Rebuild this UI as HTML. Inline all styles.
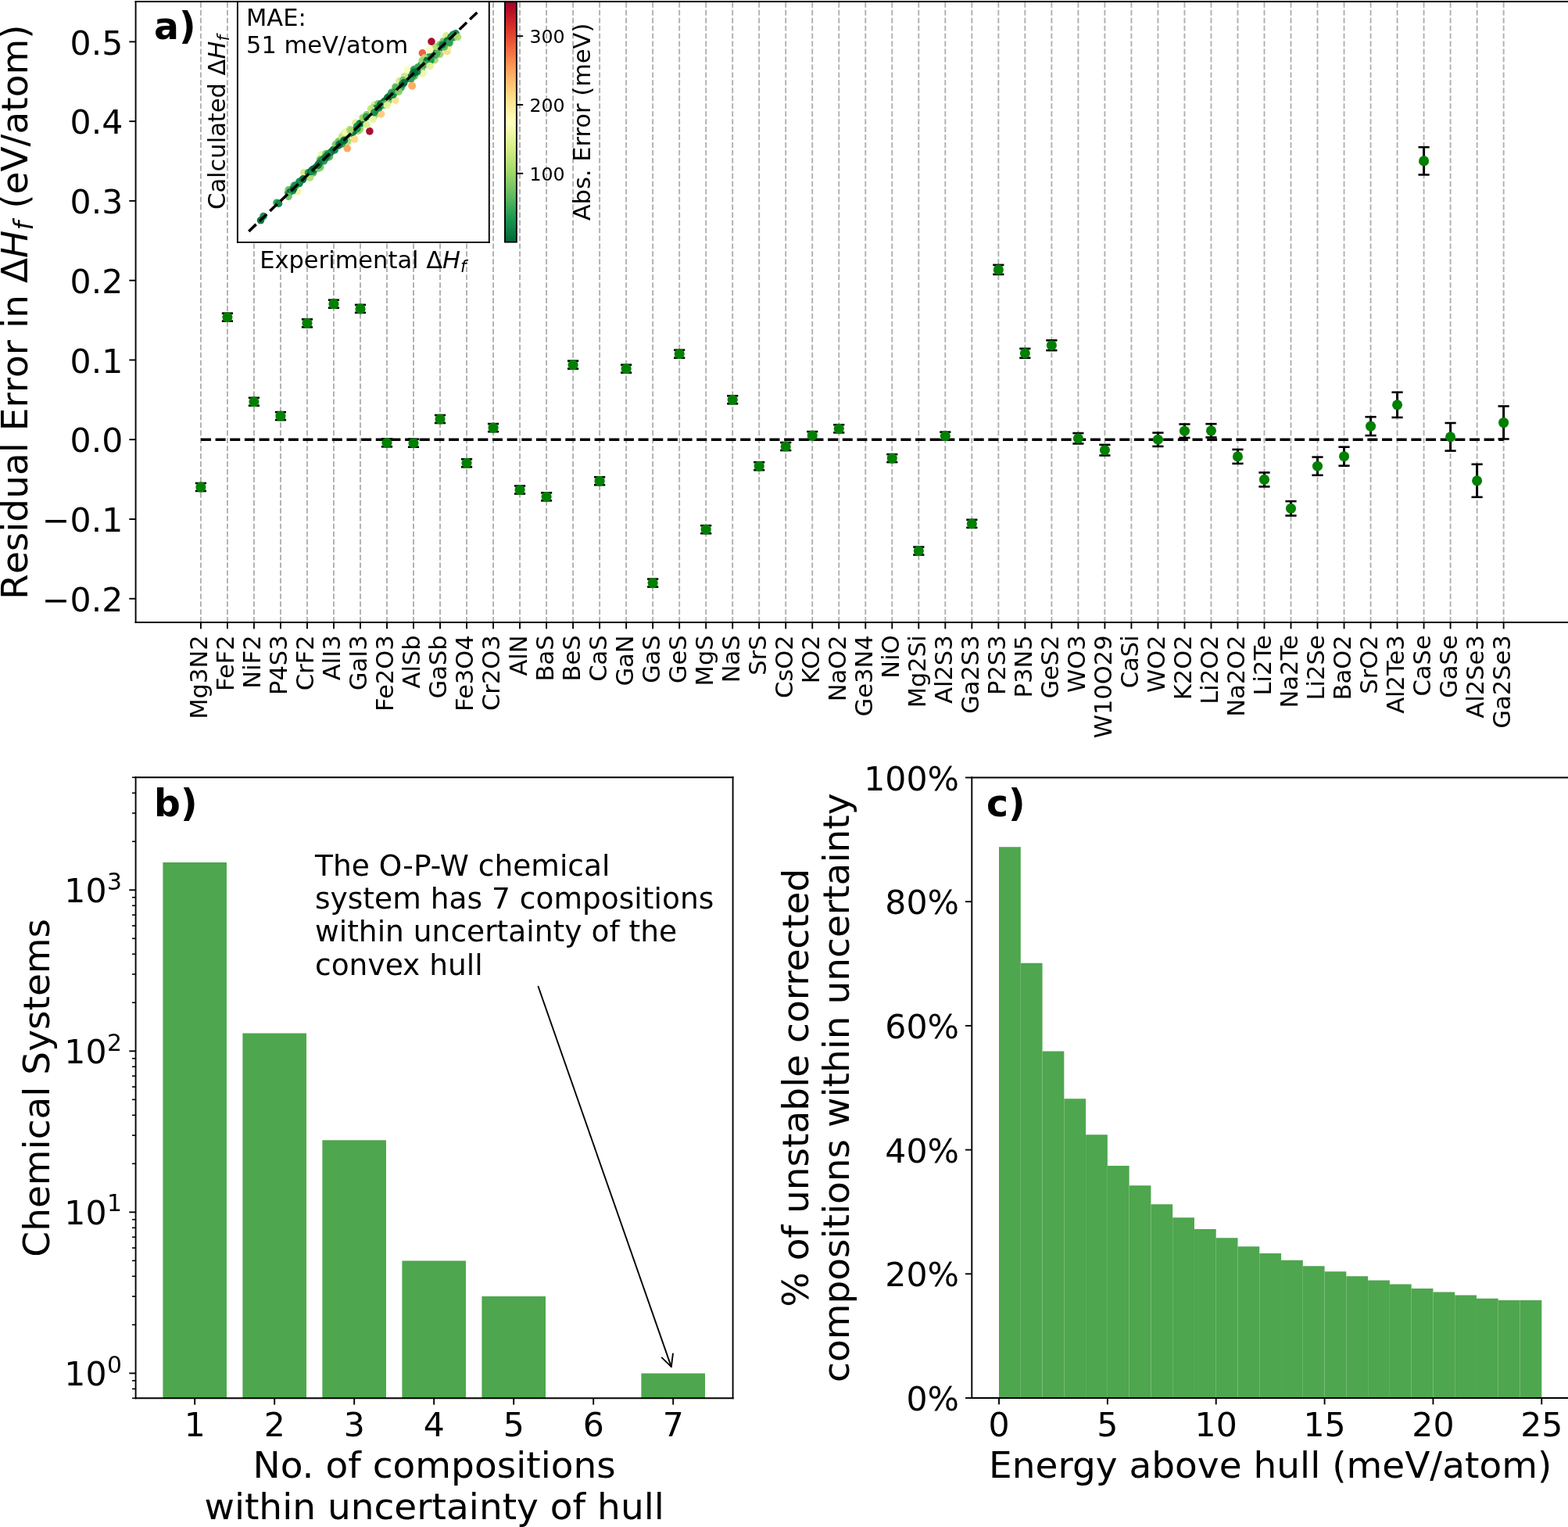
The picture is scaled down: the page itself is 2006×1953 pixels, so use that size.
<!DOCTYPE html>
<html><head><meta charset="utf-8"><title>Figure</title>
<style>html,body{margin:0;padding:0;background:#fff;}body{width:2006px;height:1953px;overflow:hidden;}svg{display:block;}</style>
</head><body>
<svg width="2006" height="1953" viewBox="0 0 2006 1953" version="1.1">
<defs>
<style type="text/css">*{stroke-linejoin: round; stroke-linecap: butt}</style>
</defs>
<g id="figure_1">
<g id="patch_1">
<path d="M 0 1953
L 2006 1953
L 2006 0
L 0 0
z
" style="fill: #ffffff"/>
</g>
<g id="axes_1">
<g id="patch_2">
<path d="M 173.6 796
L 2007 796
L 2007 2
L 173.6 2
z
" style="fill: #ffffff"/>
</g>
<g id="matplotlib.axis_1">
<g id="xtick_1">
<g id="line2d_1">
<path d="M 256.9 796
L 256.9 2
" clip-path="url(#p88816e5993)" style="fill: none; stroke-dasharray: 6.8904,3.0624; stroke-dashoffset: 0; stroke: #b0b0b0; stroke-width: 1.914"/>
</g>
<g id="line2d_2">

<g>
<path d="M 0 0 L 0 8.3" transform="translate(256.9 796)" style="stroke: #000000; stroke-width: 1.9"/>
</g>
</g>
<g id="text_1">
<text style="font-size: 30.55px; font-family: 'DejaVu Sans', sans-serif" transform="translate(265.329891 919.783492) rotate(-90)">Mg3N2</text>
</g>
</g>
<g id="xtick_2">
<g id="line2d_3">
<path d="M 290.915 796
L 290.915 2
" clip-path="url(#p88816e5993)" style="fill: none; stroke-dasharray: 6.8904,3.0624; stroke-dashoffset: 0; stroke: #b0b0b0; stroke-width: 1.914"/>
</g>
<g id="line2d_4">
<g>
<path d="M 0 0 L 0 8.3" transform="translate(290.915 796)" style="stroke: #000000; stroke-width: 1.9"/>
</g>
</g>
<g id="text_2">
<text style="font-size: 30.55px; font-family: 'DejaVu Sans', sans-serif" transform="translate(299.344891 883.997031) rotate(-90)">FeF2</text>
</g>
</g>
<g id="xtick_3">
<g id="line2d_5">
<path d="M 324.93 796
L 324.93 2
" clip-path="url(#p88816e5993)" style="fill: none; stroke-dasharray: 6.8904,3.0624; stroke-dashoffset: 0; stroke: #b0b0b0; stroke-width: 1.914"/>
</g>
<g id="line2d_6">
<g>
<path d="M 0 0 L 0 8.3" transform="translate(324.93 796)" style="stroke: #000000; stroke-width: 1.9"/>
</g>
</g>
<g id="text_3">
<text style="font-size: 30.55px; font-family: 'DejaVu Sans', sans-serif" transform="translate(333.359891 880.650852) rotate(-90)">NiF2</text>
</g>
</g>
<g id="xtick_4">
<g id="line2d_7">
<path d="M 358.945 796
L 358.945 2
" clip-path="url(#p88816e5993)" style="fill: none; stroke-dasharray: 6.8904,3.0624; stroke-dashoffset: 0; stroke: #b0b0b0; stroke-width: 1.914"/>
</g>
<g id="line2d_8">
<g>
<path d="M 0 0 L 0 8.3" transform="translate(358.945 796)" style="stroke: #000000; stroke-width: 1.9"/>
</g>
</g>
<g id="text_4">
<text style="font-size: 30.55px; font-family: 'DejaVu Sans', sans-serif" transform="translate(367.374891 888.990047) rotate(-90)">P4S3</text>
</g>
</g>
<g id="xtick_5">
<g id="line2d_9">
<path d="M 392.96 796
L 392.96 2
" clip-path="url(#p88816e5993)" style="fill: none; stroke-dasharray: 6.8904,3.0624; stroke-dashoffset: 0; stroke: #b0b0b0; stroke-width: 1.914"/>
</g>
<g id="line2d_10">
<g>
<path d="M 0 0 L 0 8.3" transform="translate(392.96 796)" style="stroke: #000000; stroke-width: 1.9"/>
</g>
</g>
<g id="text_5">
<text style="font-size: 30.55px; font-family: 'DejaVu Sans', sans-serif" transform="translate(401.389891 883.199867) rotate(-90)">CrF2</text>
</g>
</g>
<g id="xtick_6">
<g id="line2d_11">
<path d="M 426.975 796
L 426.975 2
" clip-path="url(#p88816e5993)" style="fill: none; stroke-dasharray: 6.8904,3.0624; stroke-dashoffset: 0; stroke: #b0b0b0; stroke-width: 1.914"/>
</g>
<g id="line2d_12">
<g>
<path d="M 0 0 L 0 8.3" transform="translate(426.975 796)" style="stroke: #000000; stroke-width: 1.9"/>
</g>
</g>
<g id="text_6">
<text style="font-size: 30.55px; font-family: 'DejaVu Sans', sans-serif" transform="translate(435.404891 870.134969) rotate(-90)">AlI3</text>
</g>
</g>
<g id="xtick_7">
<g id="line2d_13">
<path d="M 460.99 796
L 460.99 2
" clip-path="url(#p88816e5993)" style="fill: none; stroke-dasharray: 6.8904,3.0624; stroke-dashoffset: 0; stroke: #b0b0b0; stroke-width: 1.914"/>
</g>
<g id="line2d_14">
<g>
<path d="M 0 0 L 0 8.3" transform="translate(460.99 796)" style="stroke: #000000; stroke-width: 1.9"/>
</g>
</g>
<g id="text_7">
<text style="font-size: 30.55px; font-family: 'DejaVu Sans', sans-serif" transform="translate(469.419891 883.142586) rotate(-90)">GaI3</text>
</g>
</g>
<g id="xtick_8">
<g id="line2d_15">
<path d="M 495.005 796
L 495.005 2
" clip-path="url(#p88816e5993)" style="fill: none; stroke-dasharray: 6.8904,3.0624; stroke-dashoffset: 0; stroke: #b0b0b0; stroke-width: 1.914"/>
</g>
<g id="line2d_16">
<g>
<path d="M 0 0 L 0 8.3" transform="translate(495.005 796)" style="stroke: #000000; stroke-width: 1.9"/>
</g>
</g>
<g id="text_8">
<text style="font-size: 30.55px; font-family: 'DejaVu Sans', sans-serif" transform="translate(503.434891 909.912023) rotate(-90)">Fe2O3</text>
</g>
</g>
<g id="xtick_9">
<g id="line2d_17">
<path d="M 529.02 796
L 529.02 2
" clip-path="url(#p88816e5993)" style="fill: none; stroke-dasharray: 6.8904,3.0624; stroke-dashoffset: 0; stroke: #b0b0b0; stroke-width: 1.914"/>
</g>
<g id="line2d_18">
<g>
<path d="M 0 0 L 0 8.3" transform="translate(529.02 796)" style="stroke: #000000; stroke-width: 1.9"/>
</g>
</g>
<g id="text_9">
<text style="font-size: 30.55px; font-family: 'DejaVu Sans', sans-serif" transform="translate(537.449891 880.474234) rotate(-90)">AlSb</text>
</g>
</g>
<g id="xtick_10">
<g id="line2d_19">
<path d="M 563.035 796
L 563.035 2
" clip-path="url(#p88816e5993)" style="fill: none; stroke-dasharray: 6.8904,3.0624; stroke-dashoffset: 0; stroke: #b0b0b0; stroke-width: 1.914"/>
</g>
<g id="line2d_20">
<g>
<path d="M 0 0 L 0 8.3" transform="translate(563.035 796)" style="stroke: #000000; stroke-width: 1.9"/>
</g>
</g>
<g id="text_10">
<text style="font-size: 30.55px; font-family: 'DejaVu Sans', sans-serif" transform="translate(571.464891 893.481852) rotate(-90)">GaSb</text>
</g>
</g>
<g id="xtick_11">
<g id="line2d_21">
<path d="M 597.05 796
L 597.05 2
" clip-path="url(#p88816e5993)" style="fill: none; stroke-dasharray: 6.8904,3.0624; stroke-dashoffset: 0; stroke: #b0b0b0; stroke-width: 1.914"/>
</g>
<g id="line2d_22">
<g>
<path d="M 0 0 L 0 8.3" transform="translate(597.05 796)" style="stroke: #000000; stroke-width: 1.9"/>
</g>
</g>
<g id="text_11">
<text style="font-size: 30.55px; font-family: 'DejaVu Sans', sans-serif" transform="translate(605.479891 909.912023) rotate(-90)">Fe3O4</text>
</g>
</g>
<g id="xtick_12">
<g id="line2d_23">
<path d="M 631.065 796
L 631.065 2
" clip-path="url(#p88816e5993)" style="fill: none; stroke-dasharray: 6.8904,3.0624; stroke-dashoffset: 0; stroke: #b0b0b0; stroke-width: 1.914"/>
</g>
<g id="line2d_24">
<g>
<path d="M 0 0 L 0 8.3" transform="translate(631.065 796)" style="stroke: #000000; stroke-width: 1.9"/>
</g>
</g>
<g id="text_12">
<text style="font-size: 30.55px; font-family: 'DejaVu Sans', sans-serif" transform="translate(639.494891 909.114859) rotate(-90)">Cr2O3</text>
</g>
</g>
<g id="xtick_13">
<g id="line2d_25">
<path d="M 665.08 796
L 665.08 2
" clip-path="url(#p88816e5993)" style="fill: none; stroke-dasharray: 6.8904,3.0624; stroke-dashoffset: 0; stroke: #b0b0b0; stroke-width: 1.914"/>
</g>
<g id="line2d_26">
<g>
<path d="M 0 0 L 0 8.3" transform="translate(665.08 796)" style="stroke: #000000; stroke-width: 1.9"/>
</g>
</g>
<g id="text_13">
<text style="font-size: 30.55px; font-family: 'DejaVu Sans', sans-serif" transform="translate(673.509891 864.5405) rotate(-90)">AlN</text>
</g>
</g>
<g id="xtick_14">
<g id="line2d_27">
<path d="M 699.095 796
L 699.095 2
" clip-path="url(#p88816e5993)" style="fill: none; stroke-dasharray: 6.8904,3.0624; stroke-dashoffset: 0; stroke: #b0b0b0; stroke-width: 1.914"/>
</g>
<g id="line2d_28">
<g>
<path d="M 0 0 L 0 8.3" transform="translate(699.095 796)" style="stroke: #000000; stroke-width: 1.9"/>
</g>
</g>
<g id="text_14">
<text style="font-size: 30.55px; font-family: 'DejaVu Sans', sans-serif" transform="translate(707.524891 871.376062) rotate(-90)">BaS</text>
</g>
</g>
<g id="xtick_15">
<g id="line2d_29">
<path d="M 733.11 796
L 733.11 2
" clip-path="url(#p88816e5993)" style="fill: none; stroke-dasharray: 6.8904,3.0624; stroke-dashoffset: 0; stroke: #b0b0b0; stroke-width: 1.914"/>
</g>
<g id="line2d_30">
<g>
<path d="M 0 0 L 0 8.3" transform="translate(733.11 796)" style="stroke: #000000; stroke-width: 1.9"/>
</g>
</g>
<g id="text_15">
<text style="font-size: 30.55px; font-family: 'DejaVu Sans', sans-serif" transform="translate(741.539891 871.452437) rotate(-90)">BeS</text>
</g>
</g>
<g id="xtick_16">
<g id="line2d_31">
<path d="M 767.125 796
L 767.125 2
" clip-path="url(#p88816e5993)" style="fill: none; stroke-dasharray: 6.8904,3.0624; stroke-dashoffset: 0; stroke: #b0b0b0; stroke-width: 1.914"/>
</g>
<g id="line2d_32">
<g>
<path d="M 0 0 L 0 8.3" transform="translate(767.125 796)" style="stroke: #000000; stroke-width: 1.9"/>
</g>
</g>
<g id="text_16">
<text style="font-size: 30.55px; font-family: 'DejaVu Sans', sans-serif" transform="translate(775.554891 871.748391) rotate(-90)">CaS</text>
</g>
</g>
<g id="xtick_17">
<g id="line2d_33">
<path d="M 801.14 796
L 801.14 2
" clip-path="url(#p88816e5993)" style="fill: none; stroke-dasharray: 6.8904,3.0624; stroke-dashoffset: 0; stroke: #b0b0b0; stroke-width: 1.914"/>
</g>
<g id="line2d_34">
<g>
<path d="M 0 0 L 0 8.3" transform="translate(801.14 796)" style="stroke: #000000; stroke-width: 1.9"/>
</g>
</g>
<g id="text_17">
<text style="font-size: 30.55px; font-family: 'DejaVu Sans', sans-serif" transform="translate(809.569891 877.548117) rotate(-90)">GaN</text>
</g>
</g>
<g id="xtick_18">
<g id="line2d_35">
<path d="M 835.155 796
L 835.155 2
" clip-path="url(#p88816e5993)" style="fill: none; stroke-dasharray: 6.8904,3.0624; stroke-dashoffset: 0; stroke: #b0b0b0; stroke-width: 1.914"/>
</g>
<g id="line2d_36">
<g>
<path d="M 0 0 L 0 8.3" transform="translate(835.155 796)" style="stroke: #000000; stroke-width: 1.9"/>
</g>
</g>
<g id="text_18">
<text style="font-size: 30.55px; font-family: 'DejaVu Sans', sans-serif" transform="translate(843.584891 874.087375) rotate(-90)">GaS</text>
</g>
</g>
<g id="xtick_19">
<g id="line2d_37">
<path d="M 869.17 796
L 869.17 2
" clip-path="url(#p88816e5993)" style="fill: none; stroke-dasharray: 6.8904,3.0624; stroke-dashoffset: 0; stroke: #b0b0b0; stroke-width: 1.914"/>
</g>
<g id="line2d_38">
<g>
<path d="M 0 0 L 0 8.3" transform="translate(869.17 796)" style="stroke: #000000; stroke-width: 1.9"/>
</g>
</g>
<g id="text_19">
<text style="font-size: 30.55px; font-family: 'DejaVu Sans', sans-serif" transform="translate(877.599891 874.16375) rotate(-90)">GeS</text>
</g>
</g>
<g id="xtick_20">
<g id="line2d_39">
<path d="M 903.185 796
L 903.185 2
" clip-path="url(#p88816e5993)" style="fill: none; stroke-dasharray: 6.8904,3.0624; stroke-dashoffset: 0; stroke: #b0b0b0; stroke-width: 1.914"/>
</g>
<g id="line2d_40">
<g>
<path d="M 0 0 L 0 8.3" transform="translate(903.185 796)" style="stroke: #000000; stroke-width: 1.9"/>
</g>
</g>
<g id="text_20">
<text style="font-size: 30.55px; font-family: 'DejaVu Sans', sans-serif" transform="translate(911.614891 877.447875) rotate(-90)">MgS</text>
</g>
</g>
<g id="xtick_21">
<g id="line2d_41">
<path d="M 937.2 796
L 937.2 2
" clip-path="url(#p88816e5993)" style="fill: none; stroke-dasharray: 6.8904,3.0624; stroke-dashoffset: 0; stroke: #b0b0b0; stroke-width: 1.914"/>
</g>
<g id="line2d_42">
<g>
<path d="M 0 0 L 0 8.3" transform="translate(937.2 796)" style="stroke: #000000; stroke-width: 1.9"/>
</g>
</g>
<g id="text_21">
<text style="font-size: 30.55px; font-family: 'DejaVu Sans', sans-serif" transform="translate(945.629891 873.271117) rotate(-90)">NaS</text>
</g>
</g>
<g id="xtick_22">
<g id="line2d_43">
<path d="M 971.215 796
L 971.215 2
" clip-path="url(#p88816e5993)" style="fill: none; stroke-dasharray: 6.8904,3.0624; stroke-dashoffset: 0; stroke: #b0b0b0; stroke-width: 1.914"/>
</g>
<g id="line2d_44">
<g>
<path d="M 0 0 L 0 8.3" transform="translate(971.215 796)" style="stroke: #000000; stroke-width: 1.9"/>
</g>
</g>
<g id="text_22">
<text style="font-size: 30.55px; font-family: 'DejaVu Sans', sans-serif" transform="translate(979.644891 863.647867) rotate(-90)">SrS</text>
</g>
</g>
<g id="xtick_23">
<g id="line2d_45">
<path d="M 1005.23 796
L 1005.23 2
" clip-path="url(#p88816e5993)" style="fill: none; stroke-dasharray: 6.8904,3.0624; stroke-dashoffset: 0; stroke: #b0b0b0; stroke-width: 1.914"/>
</g>
<g id="line2d_46">
<g>
<path d="M 0 0 L 0 8.3" transform="translate(1005.23 796)" style="stroke: #000000; stroke-width: 1.9"/>
</g>
</g>
<g id="text_23">
<text style="font-size: 30.55px; font-family: 'DejaVu Sans', sans-serif" transform="translate(1013.659891 893.033148) rotate(-90)">CsO2</text>
</g>
</g>
<g id="xtick_24">
<g id="line2d_47">
<path d="M 1039.245 796
L 1039.245 2
" clip-path="url(#p88816e5993)" style="fill: none; stroke-dasharray: 6.8904,3.0624; stroke-dashoffset: 0; stroke: #b0b0b0; stroke-width: 1.914"/>
</g>
<g id="line2d_48">
<g>
<path d="M 0 0 L 0 8.3" transform="translate(1039.245 796)" style="stroke: #000000; stroke-width: 1.9"/>
</g>
</g>
<g id="text_24">
<text style="font-size: 30.55px; font-family: 'DejaVu Sans', sans-serif" transform="translate(1047.674891 874.139883) rotate(-90)">KO2</text>
</g>
</g>
<g id="xtick_25">
<g id="line2d_49">
<path d="M 1073.26 796
L 1073.26 2
" clip-path="url(#p88816e5993)" style="fill: none; stroke-dasharray: 6.8904,3.0624; stroke-dashoffset: 0; stroke: #b0b0b0; stroke-width: 1.914"/>
</g>
<g id="line2d_50">
<g>
<path d="M 0 0 L 0 8.3" transform="translate(1073.26 796)" style="stroke: #000000; stroke-width: 1.9"/>
</g>
</g>
<g id="text_25">
<text style="font-size: 30.55px; font-family: 'DejaVu Sans', sans-serif" transform="translate(1081.689891 897.362656) rotate(-90)">NaO2</text>
</g>
</g>
<g id="xtick_26">
<g id="line2d_51">
<path d="M 1107.275 796
L 1107.275 2
" clip-path="url(#p88816e5993)" style="fill: none; stroke-dasharray: 6.8904,3.0624; stroke-dashoffset: 0; stroke: #b0b0b0; stroke-width: 1.914"/>
</g>
<g id="line2d_52">
<g>
<path d="M 0 0 L 0 8.3" transform="translate(1107.275 796)" style="stroke: #000000; stroke-width: 1.9"/>
</g>
</g>
<g id="text_26">
<text style="font-size: 30.55px; font-family: 'DejaVu Sans', sans-serif" transform="translate(1115.704891 916.499367) rotate(-90)">Ge3N4</text>
</g>
</g>
<g id="xtick_27">
<g id="line2d_53">
<path d="M 1141.29 796
L 1141.29 2
" clip-path="url(#p88816e5993)" style="fill: none; stroke-dasharray: 6.8904,3.0624; stroke-dashoffset: 0; stroke: #b0b0b0; stroke-width: 1.914"/>
</g>
<g id="line2d_54">
<g>
<path d="M 0 0 L 0 8.3" transform="translate(1141.29 796)" style="stroke: #000000; stroke-width: 1.9"/>
</g>
</g>
<g id="text_27">
<text style="font-size: 30.55px; font-family: 'DejaVu Sans', sans-serif" transform="translate(1149.719891 867.690969) rotate(-90)">NiO</text>
</g>
</g>
<g id="xtick_28">
<g id="line2d_55">
<path d="M 1175.305 796
L 1175.305 2
" clip-path="url(#p88816e5993)" style="fill: none; stroke-dasharray: 6.8904,3.0624; stroke-dashoffset: 0; stroke: #b0b0b0; stroke-width: 1.914"/>
</g>
<g id="line2d_56">
<g>
<path d="M 0 0 L 0 8.3" transform="translate(1175.305 796)" style="stroke: #000000; stroke-width: 1.9"/>
</g>
</g>
<g id="text_28">
<text style="font-size: 30.55px; font-family: 'DejaVu Sans', sans-serif" transform="translate(1183.734891 905.372484) rotate(-90)">Mg2Si</text>
</g>
</g>
<g id="xtick_29">
<g id="line2d_57">
<path d="M 1209.32 796
L 1209.32 2
" clip-path="url(#p88816e5993)" style="fill: none; stroke-dasharray: 6.8904,3.0624; stroke-dashoffset: 0; stroke: #b0b0b0; stroke-width: 1.914"/>
</g>
<g id="line2d_58">
<g>
<path d="M 0 0 L 0 8.3" transform="translate(1209.32 796)" style="stroke: #000000; stroke-width: 1.9"/>
</g>
</g>
<g id="text_29">
<text style="font-size: 30.55px; font-family: 'DejaVu Sans', sans-serif" transform="translate(1217.749891 899.954633) rotate(-90)">Al2S3</text>
</g>
</g>
<g id="xtick_30">
<g id="line2d_59">
<path d="M 1243.335 796
L 1243.335 2
" clip-path="url(#p88816e5993)" style="fill: none; stroke-dasharray: 6.8904,3.0624; stroke-dashoffset: 0; stroke: #b0b0b0; stroke-width: 1.914"/>
</g>
<g id="line2d_60">
<g>
<path d="M 0 0 L 0 8.3" transform="translate(1243.335 796)" style="stroke: #000000; stroke-width: 1.9"/>
</g>
</g>
<g id="text_30">
<text style="font-size: 30.55px; font-family: 'DejaVu Sans', sans-serif" transform="translate(1251.764891 912.96225) rotate(-90)">Ga2S3</text>
</g>
</g>
<g id="xtick_31">
<g id="line2d_61">
<path d="M 1277.35 796
L 1277.35 2
" clip-path="url(#p88816e5993)" style="fill: none; stroke-dasharray: 6.8904,3.0624; stroke-dashoffset: 0; stroke: #b0b0b0; stroke-width: 1.914"/>
</g>
<g id="line2d_62">
<g>
<path d="M 0 0 L 0 8.3" transform="translate(1277.35 796)" style="stroke: #000000; stroke-width: 1.9"/>
</g>
</g>
<g id="text_31">
<text style="font-size: 30.55px; font-family: 'DejaVu Sans', sans-serif" transform="translate(1285.779891 888.990047) rotate(-90)">P2S3</text>
</g>
</g>
<g id="xtick_32">
<g id="line2d_63">
<path d="M 1311.365 796
L 1311.365 2
" clip-path="url(#p88816e5993)" style="fill: none; stroke-dasharray: 6.8904,3.0624; stroke-dashoffset: 0; stroke: #b0b0b0; stroke-width: 1.914"/>
</g>
<g id="line2d_64">
<g>
<path d="M 0 0 L 0 8.3" transform="translate(1311.365 796)" style="stroke: #000000; stroke-width: 1.9"/>
</g>
</g>
<g id="text_32">
<text style="font-size: 30.55px; font-family: 'DejaVu Sans', sans-serif" transform="translate(1319.794891 892.450789) rotate(-90)">P3N5</text>
</g>
</g>
<g id="xtick_33">
<g id="line2d_65">
<path d="M 1345.38 796
L 1345.38 2
" clip-path="url(#p88816e5993)" style="fill: none; stroke-dasharray: 6.8904,3.0624; stroke-dashoffset: 0; stroke: #b0b0b0; stroke-width: 1.914"/>
</g>
<g id="line2d_66">
<g>
<path d="M 0 0 L 0 8.3" transform="translate(1345.38 796)" style="stroke: #000000; stroke-width: 1.9"/>
</g>
</g>
<g id="text_33">
<text style="font-size: 30.55px; font-family: 'DejaVu Sans', sans-serif" transform="translate(1353.809891 893.601187) rotate(-90)">GeS2</text>
</g>
</g>
<g id="xtick_34">
<g id="line2d_67">
<path d="M 1379.395 796
L 1379.395 2
" clip-path="url(#p88816e5993)" style="fill: none; stroke-dasharray: 6.8904,3.0624; stroke-dashoffset: 0; stroke: #b0b0b0; stroke-width: 1.914"/>
</g>
<g id="line2d_68">
<g>
<path d="M 0 0 L 0 8.3" transform="translate(1379.395 796)" style="stroke: #000000; stroke-width: 1.9"/>
</g>
</g>
<g id="text_34">
<text style="font-size: 30.55px; font-family: 'DejaVu Sans', sans-serif" transform="translate(1387.824891 885.992328) rotate(-90)">WO3</text>
</g>
</g>
<g id="xtick_35">
<g id="line2d_69">
<path d="M 1413.41 796
L 1413.41 2
" clip-path="url(#p88816e5993)" style="fill: none; stroke-dasharray: 6.8904,3.0624; stroke-dashoffset: 0; stroke: #b0b0b0; stroke-width: 1.914"/>
</g>
<g id="line2d_70">
<g>
<path d="M 0 0 L 0 8.3" transform="translate(1413.41 796)" style="stroke: #000000; stroke-width: 1.9"/>
</g>
</g>
<g id="text_35">
<text style="font-size: 30.55px; font-family: 'DejaVu Sans', sans-serif" transform="translate(1421.839891 944.304641) rotate(-90)">W10O29</text>
</g>
</g>
<g id="xtick_36">
<g id="line2d_71">
<path d="M 1447.425 796
L 1447.425 2
" clip-path="url(#p88816e5993)" style="fill: none; stroke-dasharray: 6.8904,3.0624; stroke-dashoffset: 0; stroke: #b0b0b0; stroke-width: 1.914"/>
</g>
<g id="line2d_72">
<g>
<path d="M 0 0 L 0 8.3" transform="translate(1447.425 796)" style="stroke: #000000; stroke-width: 1.9"/>
</g>
</g>
<g id="text_36">
<text style="font-size: 30.55px; font-family: 'DejaVu Sans', sans-serif" transform="translate(1455.854891 880.235563) rotate(-90)">CaSi</text>
</g>
</g>
<g id="xtick_37">
<g id="line2d_73">
<path d="M 1481.44 796
L 1481.44 2
" clip-path="url(#p88816e5993)" style="fill: none; stroke-dasharray: 6.8904,3.0624; stroke-dashoffset: 0; stroke: #b0b0b0; stroke-width: 1.914"/>
</g>
<g id="line2d_74">
<g>
<path d="M 0 0 L 0 8.3" transform="translate(1481.44 796)" style="stroke: #000000; stroke-width: 1.9"/>
</g>
</g>
<g id="text_37">
<text style="font-size: 30.55px; font-family: 'DejaVu Sans', sans-serif" transform="translate(1489.869891 885.992328) rotate(-90)">WO2</text>
</g>
</g>
<g id="xtick_38">
<g id="line2d_75">
<path d="M 1515.455 796
L 1515.455 2
" clip-path="url(#p88816e5993)" style="fill: none; stroke-dasharray: 6.8904,3.0624; stroke-dashoffset: 0; stroke: #b0b0b0; stroke-width: 1.914"/>
</g>
<g id="line2d_76">
<g>
<path d="M 0 0 L 0 8.3" transform="translate(1515.455 796)" style="stroke: #000000; stroke-width: 1.9"/>
</g>
</g>
<g id="text_38">
<text style="font-size: 30.55px; font-family: 'DejaVu Sans', sans-serif" transform="translate(1523.884891 895.25757) rotate(-90)">K2O2</text>
</g>
</g>
<g id="xtick_39">
<g id="line2d_77">
<path d="M 1549.47 796
L 1549.47 2
" clip-path="url(#p88816e5993)" style="fill: none; stroke-dasharray: 6.8904,3.0624; stroke-dashoffset: 0; stroke: #b0b0b0; stroke-width: 1.914"/>
</g>
<g id="line2d_78">
<g>
<path d="M 0 0 L 0 8.3" transform="translate(1549.47 796)" style="stroke: #000000; stroke-width: 1.9"/>
</g>
</g>
<g id="text_39">
<text style="font-size: 30.55px; font-family: 'DejaVu Sans', sans-serif" transform="translate(1557.899891 900.732703) rotate(-90)">Li2O2</text>
</g>
</g>
<g id="xtick_40">
<g id="line2d_79">
<path d="M 1583.485 796
L 1583.485 2
" clip-path="url(#p88816e5993)" style="fill: none; stroke-dasharray: 6.8904,3.0624; stroke-dashoffset: 0; stroke: #b0b0b0; stroke-width: 1.914"/>
</g>
<g id="line2d_80">
<g>
<path d="M 0 0 L 0 8.3" transform="translate(1583.485 796)" style="stroke: #000000; stroke-width: 1.9"/>
</g>
</g>
<g id="text_40">
<text style="font-size: 30.55px; font-family: 'DejaVu Sans', sans-serif" transform="translate(1591.914891 916.800094) rotate(-90)">Na2O2</text>
</g>
</g>
<g id="xtick_41">
<g id="line2d_81">
<path d="M 1617.5 796
L 1617.5 2
" clip-path="url(#p88816e5993)" style="fill: none; stroke-dasharray: 6.8904,3.0624; stroke-dashoffset: 0; stroke: #b0b0b0; stroke-width: 1.914"/>
</g>
<g id="line2d_82">
<g>
<path d="M 0 0 L 0 8.3" transform="translate(1617.5 796)" style="stroke: #000000; stroke-width: 1.9"/>
</g>
</g>
<g id="text_41">
<text style="font-size: 30.55px; font-family: 'DejaVu Sans', sans-serif" transform="translate(1625.929891 889.510352) rotate(-90)">Li2Te</text>
</g>
</g>
<g id="xtick_42">
<g id="line2d_83">
<path d="M 1651.515 796
L 1651.515 2
" clip-path="url(#p88816e5993)" style="fill: none; stroke-dasharray: 6.8904,3.0624; stroke-dashoffset: 0; stroke: #b0b0b0; stroke-width: 1.914"/>
</g>
<g id="line2d_84">
<g>
<path d="M 0 0 L 0 8.3" transform="translate(1651.515 796)" style="stroke: #000000; stroke-width: 1.9"/>
</g>
</g>
<g id="text_42">
<text style="font-size: 30.55px; font-family: 'DejaVu Sans', sans-serif" transform="translate(1659.944891 905.577742) rotate(-90)">Na2Te</text>
</g>
</g>
<g id="xtick_43">
<g id="line2d_85">
<path d="M 1685.53 796
L 1685.53 2
" clip-path="url(#p88816e5993)" style="fill: none; stroke-dasharray: 6.8904,3.0624; stroke-dashoffset: 0; stroke: #b0b0b0; stroke-width: 1.914"/>
</g>
<g id="line2d_86">
<g>
<path d="M 0 0 L 0 8.3" transform="translate(1685.53 796)" style="stroke: #000000; stroke-width: 1.9"/>
</g>
</g>
<g id="text_43">
<text style="font-size: 30.55px; font-family: 'DejaVu Sans', sans-serif" transform="translate(1693.959891 895.438961) rotate(-90)">Li2Se</text>
</g>
</g>
<g id="xtick_44">
<g id="line2d_87">
<path d="M 1719.545 796
L 1719.545 2
" clip-path="url(#p88816e5993)" style="fill: none; stroke-dasharray: 6.8904,3.0624; stroke-dashoffset: 0; stroke: #b0b0b0; stroke-width: 1.914"/>
</g>
<g id="line2d_88">
<g>
<path d="M 0 0 L 0 8.3" transform="translate(1719.545 796)" style="stroke: #000000; stroke-width: 1.9"/>
</g>
</g>
<g id="text_44">
<text style="font-size: 30.55px; font-family: 'DejaVu Sans', sans-serif" transform="translate(1727.974891 895.467602) rotate(-90)">BaO2</text>
</g>
</g>
<g id="xtick_45">
<g id="line2d_89">
<path d="M 1753.56 796
L 1753.56 2
" clip-path="url(#p88816e5993)" style="fill: none; stroke-dasharray: 6.8904,3.0624; stroke-dashoffset: 0; stroke: #b0b0b0; stroke-width: 1.914"/>
</g>
<g id="line2d_90">
<g>
<path d="M 0 0 L 0 8.3" transform="translate(1753.56 796)" style="stroke: #000000; stroke-width: 1.9"/>
</g>
</g>
<g id="text_45">
<text style="font-size: 30.55px; font-family: 'DejaVu Sans', sans-serif" transform="translate(1761.989891 887.739406) rotate(-90)">SrO2</text>
</g>
</g>
<g id="xtick_46">
<g id="line2d_91">
<path d="M 1787.575 796
L 1787.575 2
" clip-path="url(#p88816e5993)" style="fill: none; stroke-dasharray: 6.8904,3.0624; stroke-dashoffset: 0; stroke: #b0b0b0; stroke-width: 1.914"/>
</g>
<g id="line2d_92">
<g>
<path d="M 0 0 L 0 8.3" transform="translate(1787.575 796)" style="stroke: #000000; stroke-width: 1.9"/>
</g>
</g>
<g id="text_46">
<text style="font-size: 30.55px; font-family: 'DejaVu Sans', sans-serif" transform="translate(1796.004891 912.82382) rotate(-90)">Al2Te3</text>
</g>
</g>
<g id="xtick_47">
<g id="line2d_93">
<path d="M 1821.59 796
L 1821.59 2
" clip-path="url(#p88816e5993)" style="fill: none; stroke-dasharray: 6.8904,3.0624; stroke-dashoffset: 0; stroke: #b0b0b0; stroke-width: 1.914"/>
</g>
<g id="line2d_94">
<g>
<path d="M 0 0 L 0 8.3" transform="translate(1821.59 796)" style="stroke: #000000; stroke-width: 1.9"/>
</g>
</g>
<g id="text_47">
<text style="font-size: 30.55px; font-family: 'DejaVu Sans', sans-serif" transform="translate(1830.019891 890.546187) rotate(-90)">CaSe</text>
</g>
</g>
<g id="xtick_48">
<g id="line2d_95">
<path d="M 1855.605 796
L 1855.605 2
" clip-path="url(#p88816e5993)" style="fill: none; stroke-dasharray: 6.8904,3.0624; stroke-dashoffset: 0; stroke: #b0b0b0; stroke-width: 1.914"/>
</g>
<g id="line2d_96">
<g>
<path d="M 0 0 L 0 8.3" transform="translate(1855.605 796)" style="stroke: #000000; stroke-width: 1.9"/>
</g>
</g>
<g id="text_48">
<text style="font-size: 30.55px; font-family: 'DejaVu Sans', sans-serif" transform="translate(1864.034891 892.885172) rotate(-90)">GaSe</text>
</g>
</g>
<g id="xtick_49">
<g id="line2d_97">
<path d="M 1889.62 796
L 1889.62 2
" clip-path="url(#p88816e5993)" style="fill: none; stroke-dasharray: 6.8904,3.0624; stroke-dashoffset: 0; stroke: #b0b0b0; stroke-width: 1.914"/>
</g>
<g id="line2d_98">
<g>
<path d="M 0 0 L 0 8.3" transform="translate(1889.62 796)" style="stroke: #000000; stroke-width: 1.9"/>
</g>
</g>
<g id="text_49">
<text style="font-size: 30.55px; font-family: 'DejaVu Sans', sans-serif" transform="translate(1898.049891 918.75243) rotate(-90)">Al2Se3</text>
</g>
</g>
<g id="xtick_50">
<g id="line2d_99">
<path d="M 1923.635 796
L 1923.635 2
" clip-path="url(#p88816e5993)" style="fill: none; stroke-dasharray: 6.8904,3.0624; stroke-dashoffset: 0; stroke: #b0b0b0; stroke-width: 1.914"/>
</g>
<g id="line2d_100">
<g>
<path d="M 0 0 L 0 8.3" transform="translate(1923.635 796)" style="stroke: #000000; stroke-width: 1.9"/>
</g>
</g>
<g id="text_50">
<text style="font-size: 30.55px; font-family: 'DejaVu Sans', sans-serif" transform="translate(1932.064891 931.760047) rotate(-90)">Ga2Se3</text>
</g>
</g>
</g>
<g id="matplotlib.axis_2">
<g id="ytick_1">
<g id="line2d_101">

<g>
<path d="M 0 0 L -8.3 0" transform="translate(173.6 765.72)" style="stroke: #000000; stroke-width: 1.9"/>
</g>
</g>
<g id="text_51">
<text style="font-size: 42.6px; font-family: 'DejaVu Sans', sans-serif; text-anchor: end" x="157.3" y="781.904672" transform="rotate(-0 157.3 781.904672)">−0.2</text>
</g>
</g>
<g id="ytick_2">
<g id="line2d_102">
<g>
<path d="M 0 0 L -8.3 0" transform="translate(173.6 663.96)" style="stroke: #000000; stroke-width: 1.9"/>
</g>
</g>
<g id="text_52">
<text style="font-size: 42.6px; font-family: 'DejaVu Sans', sans-serif; text-anchor: end" x="157.3" y="680.144672" transform="rotate(-0 157.3 680.144672)">−0.1</text>
</g>
</g>
<g id="ytick_3">
<g id="line2d_103">
<g>
<path d="M 0 0 L -8.3 0" transform="translate(173.6 562.2)" style="stroke: #000000; stroke-width: 1.9"/>
</g>
</g>
<g id="text_53">
<text style="font-size: 42.6px; font-family: 'DejaVu Sans', sans-serif; text-anchor: end" x="157.3" y="578.384672" transform="rotate(-0 157.3 578.384672)">0.0</text>
</g>
</g>
<g id="ytick_4">
<g id="line2d_104">
<g>
<path d="M 0 0 L -8.3 0" transform="translate(173.6 460.44)" style="stroke: #000000; stroke-width: 1.9"/>
</g>
</g>
<g id="text_54">
<text style="font-size: 42.6px; font-family: 'DejaVu Sans', sans-serif; text-anchor: end" x="157.3" y="476.624672" transform="rotate(-0 157.3 476.624672)">0.1</text>
</g>
</g>
<g id="ytick_5">
<g id="line2d_105">
<g>
<path d="M 0 0 L -8.3 0" transform="translate(173.6 358.68)" style="stroke: #000000; stroke-width: 1.9"/>
</g>
</g>
<g id="text_55">
<text style="font-size: 42.6px; font-family: 'DejaVu Sans', sans-serif; text-anchor: end" x="157.3" y="374.864672" transform="rotate(-0 157.3 374.864672)">0.2</text>
</g>
</g>
<g id="ytick_6">
<g id="line2d_106">
<g>
<path d="M 0 0 L -8.3 0" transform="translate(173.6 256.92)" style="stroke: #000000; stroke-width: 1.9"/>
</g>
</g>
<g id="text_56">
<text style="font-size: 42.6px; font-family: 'DejaVu Sans', sans-serif; text-anchor: end" x="157.3" y="273.104672" transform="rotate(-0 157.3 273.104672)">0.3</text>
</g>
</g>
<g id="ytick_7">
<g id="line2d_107">
<g>
<path d="M 0 0 L -8.3 0" transform="translate(173.6 155.16)" style="stroke: #000000; stroke-width: 1.9"/>
</g>
</g>
<g id="text_57">
<text style="font-size: 42.6px; font-family: 'DejaVu Sans', sans-serif; text-anchor: end" x="157.3" y="171.344672" transform="rotate(-0 157.3 171.344672)">0.4</text>
</g>
</g>
<g id="ytick_8">
<g id="line2d_108">
<g>
<path d="M 0 0 L -8.3 0" transform="translate(173.6 53.4)" style="stroke: #000000; stroke-width: 1.9"/>
</g>
</g>
<g id="text_58">
<text style="font-size: 42.6px; font-family: 'DejaVu Sans', sans-serif; text-anchor: end" x="157.3" y="69.584672" transform="rotate(-0 157.3 69.584672)">0.5</text>
</g>
</g>
<g id="text_59">
<g transform="translate(34.880687 766.775) rotate(-90)">
<text>
<tspan x="0" y="-0.296875" style="font-size: 47px; font-family: 'DejaVu Sans', sans-serif">R</tspan>
<tspan x="32.656738" y="-0.296875" style="font-size: 47px; font-family: 'DejaVu Sans', sans-serif">e</tspan>
<tspan x="61.572754" y="-0.296875" style="font-size: 47px; font-family: 'DejaVu Sans', sans-serif">s</tspan>
<tspan x="86.05957" y="-0.296875" style="font-size: 47px; font-family: 'DejaVu Sans', sans-serif">i</tspan>
<tspan x="99.117676" y="-0.296875" style="font-size: 47px; font-family: 'DejaVu Sans', sans-serif">d</tspan>
<tspan x="128.95166" y="-0.296875" style="font-size: 47px; font-family: 'DejaVu Sans', sans-serif">u</tspan>
<tspan x="158.739746" y="-0.296875" style="font-size: 47px; font-family: 'DejaVu Sans', sans-serif">a</tspan>
<tspan x="187.541016" y="-0.296875" style="font-size: 47px; font-family: 'DejaVu Sans', sans-serif">l</tspan>
<tspan x="200.599121" y="-0.296875" style="font-size: 47px; font-family: 'DejaVu Sans', sans-serif"> </tspan>
<tspan x="215.539062" y="-0.296875" style="font-size: 47px; font-family: 'DejaVu Sans', sans-serif">E</tspan>
<tspan x="245.235352" y="-0.296875" style="font-size: 47px; font-family: 'DejaVu Sans', sans-serif">r</tspan>
<tspan x="264.558594" y="-0.296875" style="font-size: 47px; font-family: 'DejaVu Sans', sans-serif">r</tspan>
<tspan x="283.881836" y="-0.296875" style="font-size: 47px; font-family: 'DejaVu Sans', sans-serif">o</tspan>
<tspan x="312.637207" y="-0.296875" style="font-size: 47px; font-family: 'DejaVu Sans', sans-serif">r</tspan>
<tspan x="331.960449" y="-0.296875" style="font-size: 47px; font-family: 'DejaVu Sans', sans-serif"> </tspan>
<tspan x="346.900391" y="-0.296875" style="font-size: 47px; font-family: 'DejaVu Sans', sans-serif">i</tspan>
<tspan x="359.958496" y="-0.296875" style="font-size: 47px; font-family: 'DejaVu Sans', sans-serif">n</tspan>
<tspan x="389.746582" y="-0.296875" style="font-size: 47px; font-family: 'DejaVu Sans', sans-serif"> </tspan>
<tspan x="404.686523" y="-0.296875" style="font-size: 47px; font-family: 'DejaVu Sans', sans-serif">Δ</tspan>
<tspan x="485.047803" y="-0.296875" style="font-size: 47px; font-family: 'DejaVu Sans', sans-serif"> </tspan>
<tspan x="499.987744" y="-0.296875" style="font-size: 47px; font-family: 'DejaVu Sans', sans-serif">(</tspan>
<tspan x="518.32417" y="-0.296875" style="font-size: 47px; font-family: 'DejaVu Sans', sans-serif">e</tspan>
<tspan x="547.240186" y="-0.296875" style="font-size: 47px; font-family: 'DejaVu Sans', sans-serif">V</tspan>
<tspan x="579.392041" y="-0.296875" style="font-size: 47px; font-family: 'DejaVu Sans', sans-serif">/</tspan>
<tspan x="595.227002" y="-0.296875" style="font-size: 47px; font-family: 'DejaVu Sans', sans-serif">a</tspan>
<tspan x="624.028271" y="-0.296875" style="font-size: 47px; font-family: 'DejaVu Sans', sans-serif">t</tspan>
<tspan x="642.456494" y="-0.296875" style="font-size: 47px; font-family: 'DejaVu Sans', sans-serif">o</tspan>
<tspan x="671.211865" y="-0.296875" style="font-size: 47px; font-family: 'DejaVu Sans', sans-serif">m</tspan>
<tspan x="716.995557" y="-0.296875" style="font-size: 47px; font-family: 'DejaVu Sans', sans-serif">)</tspan>
<tspan x="436.838379" y="-0.296875" style="font-style: oblique; font-size: 47px; font-family: 'DejaVu Sans', sans-serif">H</tspan>
<tspan x="472.180176" y="7.414062" style="font-style: oblique; font-size: 32.9px; font-family: 'DejaVu Sans', sans-serif">f</tspan>
</text>
</g>
</g>
</g>
<g id="line2d_109">
<path d="M 256.9 562.2
L 1923.635 562.2
" clip-path="url(#p88816e5993)" style="fill: none; stroke-dasharray: 13.024,5.632; stroke-dashoffset: 0; stroke: #000000; stroke-width: 3.52"/>
</g>
<g id="patch_3">
<path d="M 173.6 796
L 173.6 2
" style="fill: none; stroke: #000000; stroke-width: 1.9; stroke-linejoin: miter; stroke-linecap: square"/>
</g>
<g id="patch_4">
<path d="M 2007 796
L 2007 2
" style="fill: none; stroke: #000000; stroke-width: 1.9; stroke-linejoin: miter; stroke-linecap: square"/>
</g>
<g id="patch_5">
<path d="M 173.6 796
L 2007 796
" style="fill: none; stroke: #000000; stroke-width: 1.9; stroke-linejoin: miter; stroke-linecap: square"/>
</g>
<g id="patch_6">
<path d="M 173.6 2
L 2007 2
" style="fill: none; stroke: #000000; stroke-width: 1.9; stroke-linejoin: miter; stroke-linecap: square"/>
</g>
<g id="LineCollection_1">
<path d="M 256.9 628
L 256.9 618
" clip-path="url(#p88816e5993)" style="fill: none; stroke: #000000; stroke-width: 3"/>
</g>
<g id="line2d_110">

<g clip-path="url(#p88816e5993)">
<path d="M 7.1 0 L -7.1 -0" transform="translate(256.9 628)" style="fill: #008000; stroke: #000000; stroke-width: 2.6"/>
</g>
</g>
<g id="line2d_111">
<g clip-path="url(#p88816e5993)">
<path d="M 7.1 0 L -7.1 -0" transform="translate(256.9 618)" style="fill: #008000; stroke: #000000; stroke-width: 2.6"/>
</g>
</g>
<g id="LineCollection_2">
<path d="M 290.915 410.7
L 290.915 400.7
" clip-path="url(#p88816e5993)" style="fill: none; stroke: #000000; stroke-width: 3"/>
</g>
<g id="line2d_112">
<g clip-path="url(#p88816e5993)">
<path d="M 7.1 0 L -7.1 -0" transform="translate(290.915 410.7)" style="fill: #008000; stroke: #000000; stroke-width: 2.6"/>
</g>
</g>
<g id="line2d_113">
<g clip-path="url(#p88816e5993)">
<path d="M 7.1 0 L -7.1 -0" transform="translate(290.915 400.7)" style="fill: #008000; stroke: #000000; stroke-width: 2.6"/>
</g>
</g>
<g id="LineCollection_3">
<path d="M 324.93 518.8
L 324.93 508.8
" clip-path="url(#p88816e5993)" style="fill: none; stroke: #000000; stroke-width: 3"/>
</g>
<g id="line2d_114">
<g clip-path="url(#p88816e5993)">
<path d="M 7.1 0 L -7.1 -0" transform="translate(324.93 518.8)" style="fill: #008000; stroke: #000000; stroke-width: 2.6"/>
</g>
</g>
<g id="line2d_115">
<g clip-path="url(#p88816e5993)">
<path d="M 7.1 0 L -7.1 -0" transform="translate(324.93 508.8)" style="fill: #008000; stroke: #000000; stroke-width: 2.6"/>
</g>
</g>
<g id="LineCollection_4">
<path d="M 358.945 537.1
L 358.945 527.1
" clip-path="url(#p88816e5993)" style="fill: none; stroke: #000000; stroke-width: 3"/>
</g>
<g id="line2d_116">
<g clip-path="url(#p88816e5993)">
<path d="M 7.1 0 L -7.1 -0" transform="translate(358.945 537.1)" style="fill: #008000; stroke: #000000; stroke-width: 2.6"/>
</g>
</g>
<g id="line2d_117">
<g clip-path="url(#p88816e5993)">
<path d="M 7.1 0 L -7.1 -0" transform="translate(358.945 527.1)" style="fill: #008000; stroke: #000000; stroke-width: 2.6"/>
</g>
</g>
<g id="LineCollection_5">
<path d="M 392.96 418.4
L 392.96 408.4
" clip-path="url(#p88816e5993)" style="fill: none; stroke: #000000; stroke-width: 3"/>
</g>
<g id="line2d_118">
<g clip-path="url(#p88816e5993)">
<path d="M 7.1 0 L -7.1 -0" transform="translate(392.96 418.4)" style="fill: #008000; stroke: #000000; stroke-width: 2.6"/>
</g>
</g>
<g id="line2d_119">
<g clip-path="url(#p88816e5993)">
<path d="M 7.1 0 L -7.1 -0" transform="translate(392.96 408.4)" style="fill: #008000; stroke: #000000; stroke-width: 2.6"/>
</g>
</g>
<g id="LineCollection_6">
<path d="M 426.975 393.7
L 426.975 383.7
" clip-path="url(#p88816e5993)" style="fill: none; stroke: #000000; stroke-width: 3"/>
</g>
<g id="line2d_120">
<g clip-path="url(#p88816e5993)">
<path d="M 7.1 0 L -7.1 -0" transform="translate(426.975 393.7)" style="fill: #008000; stroke: #000000; stroke-width: 2.6"/>
</g>
</g>
<g id="line2d_121">
<g clip-path="url(#p88816e5993)">
<path d="M 7.1 0 L -7.1 -0" transform="translate(426.975 383.7)" style="fill: #008000; stroke: #000000; stroke-width: 2.6"/>
</g>
</g>
<g id="LineCollection_7">
<path d="M 460.99 399.9
L 460.99 389.9
" clip-path="url(#p88816e5993)" style="fill: none; stroke: #000000; stroke-width: 3"/>
</g>
<g id="line2d_122">
<g clip-path="url(#p88816e5993)">
<path d="M 7.1 0 L -7.1 -0" transform="translate(460.99 399.9)" style="fill: #008000; stroke: #000000; stroke-width: 2.6"/>
</g>
</g>
<g id="line2d_123">
<g clip-path="url(#p88816e5993)">
<path d="M 7.1 0 L -7.1 -0" transform="translate(460.99 389.9)" style="fill: #008000; stroke: #000000; stroke-width: 2.6"/>
</g>
</g>
<g id="LineCollection_8">
<path d="M 495.005 571.3
L 495.005 561.3
" clip-path="url(#p88816e5993)" style="fill: none; stroke: #000000; stroke-width: 3"/>
</g>
<g id="line2d_124">
<g clip-path="url(#p88816e5993)">
<path d="M 7.1 0 L -7.1 -0" transform="translate(495.005 571.3)" style="fill: #008000; stroke: #000000; stroke-width: 2.6"/>
</g>
</g>
<g id="line2d_125">
<g clip-path="url(#p88816e5993)">
<path d="M 7.1 0 L -7.1 -0" transform="translate(495.005 561.3)" style="fill: #008000; stroke: #000000; stroke-width: 2.6"/>
</g>
</g>
<g id="LineCollection_9">
<path d="M 529.02 571.7
L 529.02 561.7
" clip-path="url(#p88816e5993)" style="fill: none; stroke: #000000; stroke-width: 3"/>
</g>
<g id="line2d_126">
<g clip-path="url(#p88816e5993)">
<path d="M 7.1 0 L -7.1 -0" transform="translate(529.02 571.7)" style="fill: #008000; stroke: #000000; stroke-width: 2.6"/>
</g>
</g>
<g id="line2d_127">
<g clip-path="url(#p88816e5993)">
<path d="M 7.1 0 L -7.1 -0" transform="translate(529.02 561.7)" style="fill: #008000; stroke: #000000; stroke-width: 2.6"/>
</g>
</g>
<g id="LineCollection_10">
<path d="M 563.035 541
L 563.035 531
" clip-path="url(#p88816e5993)" style="fill: none; stroke: #000000; stroke-width: 3"/>
</g>
<g id="line2d_128">
<g clip-path="url(#p88816e5993)">
<path d="M 7.1 0 L -7.1 -0" transform="translate(563.035 541)" style="fill: #008000; stroke: #000000; stroke-width: 2.6"/>
</g>
</g>
<g id="line2d_129">
<g clip-path="url(#p88816e5993)">
<path d="M 7.1 0 L -7.1 -0" transform="translate(563.035 531)" style="fill: #008000; stroke: #000000; stroke-width: 2.6"/>
</g>
</g>
<g id="LineCollection_11">
<path d="M 597.05 597.3
L 597.05 587.3
" clip-path="url(#p88816e5993)" style="fill: none; stroke: #000000; stroke-width: 3"/>
</g>
<g id="line2d_130">
<g clip-path="url(#p88816e5993)">
<path d="M 7.1 0 L -7.1 -0" transform="translate(597.05 597.3)" style="fill: #008000; stroke: #000000; stroke-width: 2.6"/>
</g>
</g>
<g id="line2d_131">
<g clip-path="url(#p88816e5993)">
<path d="M 7.1 0 L -7.1 -0" transform="translate(597.05 587.3)" style="fill: #008000; stroke: #000000; stroke-width: 2.6"/>
</g>
</g>
<g id="LineCollection_12">
<path d="M 631.065 552.1
L 631.065 542.1
" clip-path="url(#p88816e5993)" style="fill: none; stroke: #000000; stroke-width: 3"/>
</g>
<g id="line2d_132">
<g clip-path="url(#p88816e5993)">
<path d="M 7.1 0 L -7.1 -0" transform="translate(631.065 552.1)" style="fill: #008000; stroke: #000000; stroke-width: 2.6"/>
</g>
</g>
<g id="line2d_133">
<g clip-path="url(#p88816e5993)">
<path d="M 7.1 0 L -7.1 -0" transform="translate(631.065 542.1)" style="fill: #008000; stroke: #000000; stroke-width: 2.6"/>
</g>
</g>
<g id="LineCollection_13">
<path d="M 665.08 631.5
L 665.08 621.5
" clip-path="url(#p88816e5993)" style="fill: none; stroke: #000000; stroke-width: 3"/>
</g>
<g id="line2d_134">
<g clip-path="url(#p88816e5993)">
<path d="M 7.1 0 L -7.1 -0" transform="translate(665.08 631.5)" style="fill: #008000; stroke: #000000; stroke-width: 2.6"/>
</g>
</g>
<g id="line2d_135">
<g clip-path="url(#p88816e5993)">
<path d="M 7.1 0 L -7.1 -0" transform="translate(665.08 621.5)" style="fill: #008000; stroke: #000000; stroke-width: 2.6"/>
</g>
</g>
<g id="LineCollection_14">
<path d="M 699.095 640.3
L 699.095 630.3
" clip-path="url(#p88816e5993)" style="fill: none; stroke: #000000; stroke-width: 3"/>
</g>
<g id="line2d_136">
<g clip-path="url(#p88816e5993)">
<path d="M 7.1 0 L -7.1 -0" transform="translate(699.095 640.3)" style="fill: #008000; stroke: #000000; stroke-width: 2.6"/>
</g>
</g>
<g id="line2d_137">
<g clip-path="url(#p88816e5993)">
<path d="M 7.1 0 L -7.1 -0" transform="translate(699.095 630.3)" style="fill: #008000; stroke: #000000; stroke-width: 2.6"/>
</g>
</g>
<g id="LineCollection_15">
<path d="M 733.11 471.6
L 733.11 461.6
" clip-path="url(#p88816e5993)" style="fill: none; stroke: #000000; stroke-width: 3"/>
</g>
<g id="line2d_138">
<g clip-path="url(#p88816e5993)">
<path d="M 7.1 0 L -7.1 -0" transform="translate(733.11 471.6)" style="fill: #008000; stroke: #000000; stroke-width: 2.6"/>
</g>
</g>
<g id="line2d_139">
<g clip-path="url(#p88816e5993)">
<path d="M 7.1 0 L -7.1 -0" transform="translate(733.11 461.6)" style="fill: #008000; stroke: #000000; stroke-width: 2.6"/>
</g>
</g>
<g id="LineCollection_16">
<path d="M 767.125 620.2
L 767.125 610.2
" clip-path="url(#p88816e5993)" style="fill: none; stroke: #000000; stroke-width: 3"/>
</g>
<g id="line2d_140">
<g clip-path="url(#p88816e5993)">
<path d="M 7.1 0 L -7.1 -0" transform="translate(767.125 620.2)" style="fill: #008000; stroke: #000000; stroke-width: 2.6"/>
</g>
</g>
<g id="line2d_141">
<g clip-path="url(#p88816e5993)">
<path d="M 7.1 0 L -7.1 -0" transform="translate(767.125 610.2)" style="fill: #008000; stroke: #000000; stroke-width: 2.6"/>
</g>
</g>
<g id="LineCollection_17">
<path d="M 801.14 476.6
L 801.14 466.6
" clip-path="url(#p88816e5993)" style="fill: none; stroke: #000000; stroke-width: 3"/>
</g>
<g id="line2d_142">
<g clip-path="url(#p88816e5993)">
<path d="M 7.1 0 L -7.1 -0" transform="translate(801.14 476.6)" style="fill: #008000; stroke: #000000; stroke-width: 2.6"/>
</g>
</g>
<g id="line2d_143">
<g clip-path="url(#p88816e5993)">
<path d="M 7.1 0 L -7.1 -0" transform="translate(801.14 466.6)" style="fill: #008000; stroke: #000000; stroke-width: 2.6"/>
</g>
</g>
<g id="LineCollection_18">
<path d="M 835.155 750.6
L 835.155 740.6
" clip-path="url(#p88816e5993)" style="fill: none; stroke: #000000; stroke-width: 3"/>
</g>
<g id="line2d_144">
<g clip-path="url(#p88816e5993)">
<path d="M 7.1 0 L -7.1 -0" transform="translate(835.155 750.6)" style="fill: #008000; stroke: #000000; stroke-width: 2.6"/>
</g>
</g>
<g id="line2d_145">
<g clip-path="url(#p88816e5993)">
<path d="M 7.1 0 L -7.1 -0" transform="translate(835.155 740.6)" style="fill: #008000; stroke: #000000; stroke-width: 2.6"/>
</g>
</g>
<g id="LineCollection_19">
<path d="M 869.17 457.7
L 869.17 447.7
" clip-path="url(#p88816e5993)" style="fill: none; stroke: #000000; stroke-width: 3"/>
</g>
<g id="line2d_146">
<g clip-path="url(#p88816e5993)">
<path d="M 7.1 0 L -7.1 -0" transform="translate(869.17 457.7)" style="fill: #008000; stroke: #000000; stroke-width: 2.6"/>
</g>
</g>
<g id="line2d_147">
<g clip-path="url(#p88816e5993)">
<path d="M 7.1 0 L -7.1 -0" transform="translate(869.17 447.7)" style="fill: #008000; stroke: #000000; stroke-width: 2.6"/>
</g>
</g>
<g id="LineCollection_20">
<path d="M 903.185 682.2
L 903.185 672.2
" clip-path="url(#p88816e5993)" style="fill: none; stroke: #000000; stroke-width: 3"/>
</g>
<g id="line2d_148">
<g clip-path="url(#p88816e5993)">
<path d="M 7.1 0 L -7.1 -0" transform="translate(903.185 682.2)" style="fill: #008000; stroke: #000000; stroke-width: 2.6"/>
</g>
</g>
<g id="line2d_149">
<g clip-path="url(#p88816e5993)">
<path d="M 7.1 0 L -7.1 -0" transform="translate(903.185 672.2)" style="fill: #008000; stroke: #000000; stroke-width: 2.6"/>
</g>
</g>
<g id="LineCollection_21">
<path d="M 937.2 516.3
L 937.2 506.3
" clip-path="url(#p88816e5993)" style="fill: none; stroke: #000000; stroke-width: 3"/>
</g>
<g id="line2d_150">
<g clip-path="url(#p88816e5993)">
<path d="M 7.1 0 L -7.1 -0" transform="translate(937.2 516.3)" style="fill: #008000; stroke: #000000; stroke-width: 2.6"/>
</g>
</g>
<g id="line2d_151">
<g clip-path="url(#p88816e5993)">
<path d="M 7.1 0 L -7.1 -0" transform="translate(937.2 506.3)" style="fill: #008000; stroke: #000000; stroke-width: 2.6"/>
</g>
</g>
<g id="LineCollection_22">
<path d="M 971.215 601.2
L 971.215 591.2
" clip-path="url(#p88816e5993)" style="fill: none; stroke: #000000; stroke-width: 3"/>
</g>
<g id="line2d_152">
<g clip-path="url(#p88816e5993)">
<path d="M 7.1 0 L -7.1 -0" transform="translate(971.215 601.2)" style="fill: #008000; stroke: #000000; stroke-width: 2.6"/>
</g>
</g>
<g id="line2d_153">
<g clip-path="url(#p88816e5993)">
<path d="M 7.1 0 L -7.1 -0" transform="translate(971.215 591.2)" style="fill: #008000; stroke: #000000; stroke-width: 2.6"/>
</g>
</g>
<g id="LineCollection_23">
<path d="M 1005.23 576
L 1005.23 566
" clip-path="url(#p88816e5993)" style="fill: none; stroke: #000000; stroke-width: 3"/>
</g>
<g id="line2d_154">
<g clip-path="url(#p88816e5993)">
<path d="M 7.1 0 L -7.1 -0" transform="translate(1005.23 576)" style="fill: #008000; stroke: #000000; stroke-width: 2.6"/>
</g>
</g>
<g id="line2d_155">
<g clip-path="url(#p88816e5993)">
<path d="M 7.1 0 L -7.1 -0" transform="translate(1005.23 566)" style="fill: #008000; stroke: #000000; stroke-width: 2.6"/>
</g>
</g>
<g id="LineCollection_24">
<path d="M 1039.245 562.1
L 1039.245 552.1
" clip-path="url(#p88816e5993)" style="fill: none; stroke: #000000; stroke-width: 3"/>
</g>
<g id="line2d_156">
<g clip-path="url(#p88816e5993)">
<path d="M 7.1 0 L -7.1 -0" transform="translate(1039.245 562.1)" style="fill: #008000; stroke: #000000; stroke-width: 2.6"/>
</g>
</g>
<g id="line2d_157">
<g clip-path="url(#p88816e5993)">
<path d="M 7.1 0 L -7.1 -0" transform="translate(1039.245 552.1)" style="fill: #008000; stroke: #000000; stroke-width: 2.6"/>
</g>
</g>
<g id="LineCollection_25">
<path d="M 1073.26 553.3
L 1073.26 543.3
" clip-path="url(#p88816e5993)" style="fill: none; stroke: #000000; stroke-width: 3"/>
</g>
<g id="line2d_158">
<g clip-path="url(#p88816e5993)">
<path d="M 7.1 0 L -7.1 -0" transform="translate(1073.26 553.3)" style="fill: #008000; stroke: #000000; stroke-width: 2.6"/>
</g>
</g>
<g id="line2d_159">
<g clip-path="url(#p88816e5993)">
<path d="M 7.1 0 L -7.1 -0" transform="translate(1073.26 543.3)" style="fill: #008000; stroke: #000000; stroke-width: 2.6"/>
</g>
</g>
<g id="LineCollection_26">
<path d="M 1141.29 591.1
L 1141.29 581.1
" clip-path="url(#p88816e5993)" style="fill: none; stroke: #000000; stroke-width: 3"/>
</g>
<g id="line2d_160">
<g clip-path="url(#p88816e5993)">
<path d="M 7.1 0 L -7.1 -0" transform="translate(1141.29 591.1)" style="fill: #008000; stroke: #000000; stroke-width: 2.6"/>
</g>
</g>
<g id="line2d_161">
<g clip-path="url(#p88816e5993)">
<path d="M 7.1 0 L -7.1 -0" transform="translate(1141.29 581.1)" style="fill: #008000; stroke: #000000; stroke-width: 2.6"/>
</g>
</g>
<g id="LineCollection_27">
<path d="M 1175.305 709.6
L 1175.305 699.6
" clip-path="url(#p88816e5993)" style="fill: none; stroke: #000000; stroke-width: 3"/>
</g>
<g id="line2d_162">
<g clip-path="url(#p88816e5993)">
<path d="M 7.1 0 L -7.1 -0" transform="translate(1175.305 709.6)" style="fill: #008000; stroke: #000000; stroke-width: 2.6"/>
</g>
</g>
<g id="line2d_163">
<g clip-path="url(#p88816e5993)">
<path d="M 7.1 0 L -7.1 -0" transform="translate(1175.305 699.6)" style="fill: #008000; stroke: #000000; stroke-width: 2.6"/>
</g>
</g>
<g id="LineCollection_28">
<path d="M 1209.32 562.6
L 1209.32 552.6
" clip-path="url(#p88816e5993)" style="fill: none; stroke: #000000; stroke-width: 3"/>
</g>
<g id="line2d_164">
<g clip-path="url(#p88816e5993)">
<path d="M 7.1 0 L -7.1 -0" transform="translate(1209.32 562.6)" style="fill: #008000; stroke: #000000; stroke-width: 2.6"/>
</g>
</g>
<g id="line2d_165">
<g clip-path="url(#p88816e5993)">
<path d="M 7.1 0 L -7.1 -0" transform="translate(1209.32 552.6)" style="fill: #008000; stroke: #000000; stroke-width: 2.6"/>
</g>
</g>
<g id="LineCollection_29">
<path d="M 1243.335 674.8
L 1243.335 664.8
" clip-path="url(#p88816e5993)" style="fill: none; stroke: #000000; stroke-width: 3"/>
</g>
<g id="line2d_166">
<g clip-path="url(#p88816e5993)">
<path d="M 7.1 0 L -7.1 -0" transform="translate(1243.335 674.8)" style="fill: #008000; stroke: #000000; stroke-width: 2.6"/>
</g>
</g>
<g id="line2d_167">
<g clip-path="url(#p88816e5993)">
<path d="M 7.1 0 L -7.1 -0" transform="translate(1243.335 664.8)" style="fill: #008000; stroke: #000000; stroke-width: 2.6"/>
</g>
</g>
<g id="LineCollection_30">
<path d="M 1277.35 350.9
L 1277.35 338.9
" clip-path="url(#p88816e5993)" style="fill: none; stroke: #000000; stroke-width: 3"/>
</g>
<g id="line2d_168">
<g clip-path="url(#p88816e5993)">
<path d="M 7.1 0 L -7.1 -0" transform="translate(1277.35 350.9)" style="fill: #008000; stroke: #000000; stroke-width: 2.6"/>
</g>
</g>
<g id="line2d_169">
<g clip-path="url(#p88816e5993)">
<path d="M 7.1 0 L -7.1 -0" transform="translate(1277.35 338.9)" style="fill: #008000; stroke: #000000; stroke-width: 2.6"/>
</g>
</g>
<g id="LineCollection_31">
<path d="M 1311.365 457.7
L 1311.365 445.9
" clip-path="url(#p88816e5993)" style="fill: none; stroke: #000000; stroke-width: 3"/>
</g>
<g id="line2d_170">
<g clip-path="url(#p88816e5993)">
<path d="M 7.1 0 L -7.1 -0" transform="translate(1311.365 457.7)" style="fill: #008000; stroke: #000000; stroke-width: 2.6"/>
</g>
</g>
<g id="line2d_171">
<g clip-path="url(#p88816e5993)">
<path d="M 7.1 0 L -7.1 -0" transform="translate(1311.365 445.9)" style="fill: #008000; stroke: #000000; stroke-width: 2.6"/>
</g>
</g>
<g id="LineCollection_32">
<path d="M 1345.38 448.1
L 1345.38 435.3
" clip-path="url(#p88816e5993)" style="fill: none; stroke: #000000; stroke-width: 3"/>
</g>
<g id="line2d_172">
<g clip-path="url(#p88816e5993)">
<path d="M 7.1 0 L -7.1 -0" transform="translate(1345.38 448.1)" style="fill: #008000; stroke: #000000; stroke-width: 2.6"/>
</g>
</g>
<g id="line2d_173">
<g clip-path="url(#p88816e5993)">
<path d="M 7.1 0 L -7.1 -0" transform="translate(1345.38 435.3)" style="fill: #008000; stroke: #000000; stroke-width: 2.6"/>
</g>
</g>
<g id="LineCollection_33">
<path d="M 1379.395 567.4
L 1379.395 554
" clip-path="url(#p88816e5993)" style="fill: none; stroke: #000000; stroke-width: 3"/>
</g>
<g id="line2d_174">
<g clip-path="url(#p88816e5993)">
<path d="M 7.1 0 L -7.1 -0" transform="translate(1379.395 567.4)" style="fill: #008000; stroke: #000000; stroke-width: 2.6"/>
</g>
</g>
<g id="line2d_175">
<g clip-path="url(#p88816e5993)">
<path d="M 7.1 0 L -7.1 -0" transform="translate(1379.395 554)" style="fill: #008000; stroke: #000000; stroke-width: 2.6"/>
</g>
</g>
<g id="LineCollection_34">
<path d="M 1413.41 582.5
L 1413.41 568.9
" clip-path="url(#p88816e5993)" style="fill: none; stroke: #000000; stroke-width: 3"/>
</g>
<g id="line2d_176">
<g clip-path="url(#p88816e5993)">
<path d="M 7.1 0 L -7.1 -0" transform="translate(1413.41 582.5)" style="fill: #008000; stroke: #000000; stroke-width: 2.6"/>
</g>
</g>
<g id="line2d_177">
<g clip-path="url(#p88816e5993)">
<path d="M 7.1 0 L -7.1 -0" transform="translate(1413.41 568.9)" style="fill: #008000; stroke: #000000; stroke-width: 2.6"/>
</g>
</g>
<g id="LineCollection_35">
<path d="M 1481.44 570.9
L 1481.44 553.5
" clip-path="url(#p88816e5993)" style="fill: none; stroke: #000000; stroke-width: 3"/>
</g>
<g id="line2d_178">
<g clip-path="url(#p88816e5993)">
<path d="M 7.1 0 L -7.1 -0" transform="translate(1481.44 570.9)" style="fill: #008000; stroke: #000000; stroke-width: 2.6"/>
</g>
</g>
<g id="line2d_179">
<g clip-path="url(#p88816e5993)">
<path d="M 7.1 0 L -7.1 -0" transform="translate(1481.44 553.5)" style="fill: #008000; stroke: #000000; stroke-width: 2.6"/>
</g>
</g>
<g id="LineCollection_36">
<path d="M 1515.455 559.9
L 1515.455 542.5
" clip-path="url(#p88816e5993)" style="fill: none; stroke: #000000; stroke-width: 3"/>
</g>
<g id="line2d_180">
<g clip-path="url(#p88816e5993)">
<path d="M 7.1 0 L -7.1 -0" transform="translate(1515.455 559.9)" style="fill: #008000; stroke: #000000; stroke-width: 2.6"/>
</g>
</g>
<g id="line2d_181">
<g clip-path="url(#p88816e5993)">
<path d="M 7.1 0 L -7.1 -0" transform="translate(1515.455 542.5)" style="fill: #008000; stroke: #000000; stroke-width: 2.6"/>
</g>
</g>
<g id="LineCollection_37">
<path d="M 1549.47 559.4
L 1549.47 542.2
" clip-path="url(#p88816e5993)" style="fill: none; stroke: #000000; stroke-width: 3"/>
</g>
<g id="line2d_182">
<g clip-path="url(#p88816e5993)">
<path d="M 7.1 0 L -7.1 -0" transform="translate(1549.47 559.4)" style="fill: #008000; stroke: #000000; stroke-width: 2.6"/>
</g>
</g>
<g id="line2d_183">
<g clip-path="url(#p88816e5993)">
<path d="M 7.1 0 L -7.1 -0" transform="translate(1549.47 542.2)" style="fill: #008000; stroke: #000000; stroke-width: 2.6"/>
</g>
</g>
<g id="LineCollection_38">
<path d="M 1583.485 592.9
L 1583.485 574.9
" clip-path="url(#p88816e5993)" style="fill: none; stroke: #000000; stroke-width: 3"/>
</g>
<g id="line2d_184">
<g clip-path="url(#p88816e5993)">
<path d="M 7.1 0 L -7.1 -0" transform="translate(1583.485 592.9)" style="fill: #008000; stroke: #000000; stroke-width: 2.6"/>
</g>
</g>
<g id="line2d_185">
<g clip-path="url(#p88816e5993)">
<path d="M 7.1 0 L -7.1 -0" transform="translate(1583.485 574.9)" style="fill: #008000; stroke: #000000; stroke-width: 2.6"/>
</g>
</g>
<g id="LineCollection_39">
<path d="M 1617.5 622.4
L 1617.5 604.4
" clip-path="url(#p88816e5993)" style="fill: none; stroke: #000000; stroke-width: 3"/>
</g>
<g id="line2d_186">
<g clip-path="url(#p88816e5993)">
<path d="M 7.1 0 L -7.1 -0" transform="translate(1617.5 622.4)" style="fill: #008000; stroke: #000000; stroke-width: 2.6"/>
</g>
</g>
<g id="line2d_187">
<g clip-path="url(#p88816e5993)">
<path d="M 7.1 0 L -7.1 -0" transform="translate(1617.5 604.4)" style="fill: #008000; stroke: #000000; stroke-width: 2.6"/>
</g>
</g>
<g id="LineCollection_40">
<path d="M 1651.515 659.5
L 1651.515 641.1
" clip-path="url(#p88816e5993)" style="fill: none; stroke: #000000; stroke-width: 3"/>
</g>
<g id="line2d_188">
<g clip-path="url(#p88816e5993)">
<path d="M 7.1 0 L -7.1 -0" transform="translate(1651.515 659.5)" style="fill: #008000; stroke: #000000; stroke-width: 2.6"/>
</g>
</g>
<g id="line2d_189">
<g clip-path="url(#p88816e5993)">
<path d="M 7.1 0 L -7.1 -0" transform="translate(1651.515 641.1)" style="fill: #008000; stroke: #000000; stroke-width: 2.6"/>
</g>
</g>
<g id="LineCollection_41">
<path d="M 1685.53 607.8
L 1685.53 584.6
" clip-path="url(#p88816e5993)" style="fill: none; stroke: #000000; stroke-width: 3"/>
</g>
<g id="line2d_190">
<g clip-path="url(#p88816e5993)">
<path d="M 7.1 0 L -7.1 -0" transform="translate(1685.53 607.8)" style="fill: #008000; stroke: #000000; stroke-width: 2.6"/>
</g>
</g>
<g id="line2d_191">
<g clip-path="url(#p88816e5993)">
<path d="M 7.1 0 L -7.1 -0" transform="translate(1685.53 584.6)" style="fill: #008000; stroke: #000000; stroke-width: 2.6"/>
</g>
</g>
<g id="LineCollection_42">
<path d="M 1719.545 595.7
L 1719.545 571.7
" clip-path="url(#p88816e5993)" style="fill: none; stroke: #000000; stroke-width: 3"/>
</g>
<g id="line2d_192">
<g clip-path="url(#p88816e5993)">
<path d="M 7.1 0 L -7.1 -0" transform="translate(1719.545 595.7)" style="fill: #008000; stroke: #000000; stroke-width: 2.6"/>
</g>
</g>
<g id="line2d_193">
<g clip-path="url(#p88816e5993)">
<path d="M 7.1 0 L -7.1 -0" transform="translate(1719.545 571.7)" style="fill: #008000; stroke: #000000; stroke-width: 2.6"/>
</g>
</g>
<g id="LineCollection_43">
<path d="M 1753.56 557
L 1753.56 533.2
" clip-path="url(#p88816e5993)" style="fill: none; stroke: #000000; stroke-width: 3"/>
</g>
<g id="line2d_194">
<g clip-path="url(#p88816e5993)">
<path d="M 7.1 0 L -7.1 -0" transform="translate(1753.56 557)" style="fill: #008000; stroke: #000000; stroke-width: 2.6"/>
</g>
</g>
<g id="line2d_195">
<g clip-path="url(#p88816e5993)">
<path d="M 7.1 0 L -7.1 -0" transform="translate(1753.56 533.2)" style="fill: #008000; stroke: #000000; stroke-width: 2.6"/>
</g>
</g>
<g id="LineCollection_44">
<path d="M 1787.575 533.9
L 1787.575 501.7
" clip-path="url(#p88816e5993)" style="fill: none; stroke: #000000; stroke-width: 3"/>
</g>
<g id="line2d_196">
<g clip-path="url(#p88816e5993)">
<path d="M 7.1 0 L -7.1 -0" transform="translate(1787.575 533.9)" style="fill: #008000; stroke: #000000; stroke-width: 2.6"/>
</g>
</g>
<g id="line2d_197">
<g clip-path="url(#p88816e5993)">
<path d="M 7.1 0 L -7.1 -0" transform="translate(1787.575 501.7)" style="fill: #008000; stroke: #000000; stroke-width: 2.6"/>
</g>
</g>
<g id="LineCollection_45">
<path d="M 1821.59 223.5
L 1821.59 188.3
" clip-path="url(#p88816e5993)" style="fill: none; stroke: #000000; stroke-width: 3"/>
</g>
<g id="line2d_198">
<g clip-path="url(#p88816e5993)">
<path d="M 7.1 0 L -7.1 -0" transform="translate(1821.59 223.5)" style="fill: #008000; stroke: #000000; stroke-width: 2.6"/>
</g>
</g>
<g id="line2d_199">
<g clip-path="url(#p88816e5993)">
<path d="M 7.1 0 L -7.1 -0" transform="translate(1821.59 188.3)" style="fill: #008000; stroke: #000000; stroke-width: 2.6"/>
</g>
</g>
<g id="LineCollection_46">
<path d="M 1855.605 576.6
L 1855.605 541
" clip-path="url(#p88816e5993)" style="fill: none; stroke: #000000; stroke-width: 3"/>
</g>
<g id="line2d_200">
<g clip-path="url(#p88816e5993)">
<path d="M 7.1 0 L -7.1 -0" transform="translate(1855.605 576.6)" style="fill: #008000; stroke: #000000; stroke-width: 2.6"/>
</g>
</g>
<g id="line2d_201">
<g clip-path="url(#p88816e5993)">
<path d="M 7.1 0 L -7.1 -0" transform="translate(1855.605 541)" style="fill: #008000; stroke: #000000; stroke-width: 2.6"/>
</g>
</g>
<g id="LineCollection_47">
<path d="M 1889.62 635.8
L 1889.62 593.8
" clip-path="url(#p88816e5993)" style="fill: none; stroke: #000000; stroke-width: 3"/>
</g>
<g id="line2d_202">
<g clip-path="url(#p88816e5993)">
<path d="M 7.1 0 L -7.1 -0" transform="translate(1889.62 635.8)" style="fill: #008000; stroke: #000000; stroke-width: 2.6"/>
</g>
</g>
<g id="line2d_203">
<g clip-path="url(#p88816e5993)">
<path d="M 7.1 0 L -7.1 -0" transform="translate(1889.62 593.8)" style="fill: #008000; stroke: #000000; stroke-width: 2.6"/>
</g>
</g>
<g id="LineCollection_48">
<path d="M 1923.635 561.5
L 1923.635 519.5
" clip-path="url(#p88816e5993)" style="fill: none; stroke: #000000; stroke-width: 3"/>
</g>
<g id="line2d_204">
<g clip-path="url(#p88816e5993)">
<path d="M 7.1 0 L -7.1 -0" transform="translate(1923.635 561.5)" style="fill: #008000; stroke: #000000; stroke-width: 2.6"/>
</g>
</g>
<g id="line2d_205">
<g clip-path="url(#p88816e5993)">
<path d="M 7.1 0 L -7.1 -0" transform="translate(1923.635 519.5)" style="fill: #008000; stroke: #000000; stroke-width: 2.6"/>
</g>
</g>
<g id="line2d_206">

<g clip-path="url(#p88816e5993)">
<circle cx="256.9" cy="623" r="6.55" style="fill: #008000"/>
</g>
</g>
<g id="line2d_207">
<g clip-path="url(#p88816e5993)">
<circle cx="290.915" cy="405.7" r="6.55" style="fill: #008000"/>
</g>
</g>
<g id="line2d_208">
<g clip-path="url(#p88816e5993)">
<circle cx="324.93" cy="513.8" r="6.55" style="fill: #008000"/>
</g>
</g>
<g id="line2d_209">
<g clip-path="url(#p88816e5993)">
<circle cx="358.945" cy="532.1" r="6.55" style="fill: #008000"/>
</g>
</g>
<g id="line2d_210">
<g clip-path="url(#p88816e5993)">
<circle cx="392.96" cy="413.4" r="6.55" style="fill: #008000"/>
</g>
</g>
<g id="line2d_211">
<g clip-path="url(#p88816e5993)">
<circle cx="426.975" cy="388.7" r="6.55" style="fill: #008000"/>
</g>
</g>
<g id="line2d_212">
<g clip-path="url(#p88816e5993)">
<circle cx="460.99" cy="394.9" r="6.55" style="fill: #008000"/>
</g>
</g>
<g id="line2d_213">
<g clip-path="url(#p88816e5993)">
<circle cx="495.005" cy="566.3" r="6.55" style="fill: #008000"/>
</g>
</g>
<g id="line2d_214">
<g clip-path="url(#p88816e5993)">
<circle cx="529.02" cy="566.7" r="6.55" style="fill: #008000"/>
</g>
</g>
<g id="line2d_215">
<g clip-path="url(#p88816e5993)">
<circle cx="563.035" cy="536" r="6.55" style="fill: #008000"/>
</g>
</g>
<g id="line2d_216">
<g clip-path="url(#p88816e5993)">
<circle cx="597.05" cy="592.3" r="6.55" style="fill: #008000"/>
</g>
</g>
<g id="line2d_217">
<g clip-path="url(#p88816e5993)">
<circle cx="631.065" cy="547.1" r="6.55" style="fill: #008000"/>
</g>
</g>
<g id="line2d_218">
<g clip-path="url(#p88816e5993)">
<circle cx="665.08" cy="626.5" r="6.55" style="fill: #008000"/>
</g>
</g>
<g id="line2d_219">
<g clip-path="url(#p88816e5993)">
<circle cx="699.095" cy="635.3" r="6.55" style="fill: #008000"/>
</g>
</g>
<g id="line2d_220">
<g clip-path="url(#p88816e5993)">
<circle cx="733.11" cy="466.6" r="6.55" style="fill: #008000"/>
</g>
</g>
<g id="line2d_221">
<g clip-path="url(#p88816e5993)">
<circle cx="767.125" cy="615.2" r="6.55" style="fill: #008000"/>
</g>
</g>
<g id="line2d_222">
<g clip-path="url(#p88816e5993)">
<circle cx="801.14" cy="471.6" r="6.55" style="fill: #008000"/>
</g>
</g>
<g id="line2d_223">
<g clip-path="url(#p88816e5993)">
<circle cx="835.155" cy="745.6" r="6.55" style="fill: #008000"/>
</g>
</g>
<g id="line2d_224">
<g clip-path="url(#p88816e5993)">
<circle cx="869.17" cy="452.7" r="6.55" style="fill: #008000"/>
</g>
</g>
<g id="line2d_225">
<g clip-path="url(#p88816e5993)">
<circle cx="903.185" cy="677.2" r="6.55" style="fill: #008000"/>
</g>
</g>
<g id="line2d_226">
<g clip-path="url(#p88816e5993)">
<circle cx="937.2" cy="511.3" r="6.55" style="fill: #008000"/>
</g>
</g>
<g id="line2d_227">
<g clip-path="url(#p88816e5993)">
<circle cx="971.215" cy="596.2" r="6.55" style="fill: #008000"/>
</g>
</g>
<g id="line2d_228">
<g clip-path="url(#p88816e5993)">
<circle cx="1005.23" cy="571" r="6.55" style="fill: #008000"/>
</g>
</g>
<g id="line2d_229">
<g clip-path="url(#p88816e5993)">
<circle cx="1039.245" cy="557.1" r="6.55" style="fill: #008000"/>
</g>
</g>
<g id="line2d_230">
<g clip-path="url(#p88816e5993)">
<circle cx="1073.26" cy="548.3" r="6.55" style="fill: #008000"/>
</g>
</g>
<g id="line2d_231">
<g clip-path="url(#p88816e5993)">
<circle cx="1141.29" cy="586.1" r="6.55" style="fill: #008000"/>
</g>
</g>
<g id="line2d_232">
<g clip-path="url(#p88816e5993)">
<circle cx="1175.305" cy="704.6" r="6.55" style="fill: #008000"/>
</g>
</g>
<g id="line2d_233">
<g clip-path="url(#p88816e5993)">
<circle cx="1209.32" cy="557.6" r="6.55" style="fill: #008000"/>
</g>
</g>
<g id="line2d_234">
<g clip-path="url(#p88816e5993)">
<circle cx="1243.335" cy="669.8" r="6.55" style="fill: #008000"/>
</g>
</g>
<g id="line2d_235">
<g clip-path="url(#p88816e5993)">
<circle cx="1277.35" cy="344.9" r="6.55" style="fill: #008000"/>
</g>
</g>
<g id="line2d_236">
<g clip-path="url(#p88816e5993)">
<circle cx="1311.365" cy="451.8" r="6.55" style="fill: #008000"/>
</g>
</g>
<g id="line2d_237">
<g clip-path="url(#p88816e5993)">
<circle cx="1345.38" cy="441.7" r="6.55" style="fill: #008000"/>
</g>
</g>
<g id="line2d_238">
<g clip-path="url(#p88816e5993)">
<circle cx="1379.395" cy="560.7" r="6.55" style="fill: #008000"/>
</g>
</g>
<g id="line2d_239">
<g clip-path="url(#p88816e5993)">
<circle cx="1413.41" cy="575.7" r="6.55" style="fill: #008000"/>
</g>
</g>
<g id="line2d_240">
<g clip-path="url(#p88816e5993)">
<circle cx="1481.44" cy="562.2" r="6.55" style="fill: #008000"/>
</g>
</g>
<g id="line2d_241">
<g clip-path="url(#p88816e5993)">
<circle cx="1515.455" cy="551.2" r="6.55" style="fill: #008000"/>
</g>
</g>
<g id="line2d_242">
<g clip-path="url(#p88816e5993)">
<circle cx="1549.47" cy="550.8" r="6.55" style="fill: #008000"/>
</g>
</g>
<g id="line2d_243">
<g clip-path="url(#p88816e5993)">
<circle cx="1583.485" cy="583.9" r="6.55" style="fill: #008000"/>
</g>
</g>
<g id="line2d_244">
<g clip-path="url(#p88816e5993)">
<circle cx="1617.5" cy="613.4" r="6.55" style="fill: #008000"/>
</g>
</g>
<g id="line2d_245">
<g clip-path="url(#p88816e5993)">
<circle cx="1651.515" cy="650.3" r="6.55" style="fill: #008000"/>
</g>
</g>
<g id="line2d_246">
<g clip-path="url(#p88816e5993)">
<circle cx="1685.53" cy="596.2" r="6.55" style="fill: #008000"/>
</g>
</g>
<g id="line2d_247">
<g clip-path="url(#p88816e5993)">
<circle cx="1719.545" cy="583.7" r="6.55" style="fill: #008000"/>
</g>
</g>
<g id="line2d_248">
<g clip-path="url(#p88816e5993)">
<circle cx="1753.56" cy="545.1" r="6.55" style="fill: #008000"/>
</g>
</g>
<g id="line2d_249">
<g clip-path="url(#p88816e5993)">
<circle cx="1787.575" cy="517.8" r="6.55" style="fill: #008000"/>
</g>
</g>
<g id="line2d_250">
<g clip-path="url(#p88816e5993)">
<circle cx="1821.59" cy="205.9" r="6.55" style="fill: #008000"/>
</g>
</g>
<g id="line2d_251">
<g clip-path="url(#p88816e5993)">
<circle cx="1855.605" cy="558.8" r="6.55" style="fill: #008000"/>
</g>
</g>
<g id="line2d_252">
<g clip-path="url(#p88816e5993)">
<circle cx="1889.62" cy="614.8" r="6.55" style="fill: #008000"/>
</g>
</g>
<g id="line2d_253">
<g clip-path="url(#p88816e5993)">
<circle cx="1923.635" cy="540.5" r="6.55" style="fill: #008000"/>
</g>
</g>
</g>
<g id="axes_2">
<g id="patch_7">
<path d="M 303.9 309.9
L 625.8 309.9
L 625.8 2
L 303.9 2
z
" style="fill: #ffffff"/>
</g>
<g id="matplotlib.axis_3">
<g id="text_60">
<g transform="translate(332.175 343.28)">
<text>
<tspan x="0" y="-0.453125" style="font-size: 30.5px; font-family: 'DejaVu Sans', sans-serif">E</tspan>
<tspan x="19.270996" y="-0.453125" style="font-size: 30.5px; font-family: 'DejaVu Sans', sans-serif">x</tspan>
<tspan x="37.320801" y="-0.453125" style="font-size: 30.5px; font-family: 'DejaVu Sans', sans-serif">p</tspan>
<tspan x="56.681152" y="-0.453125" style="font-size: 30.5px; font-family: 'DejaVu Sans', sans-serif">e</tspan>
<tspan x="75.445801" y="-0.453125" style="font-size: 30.5px; font-family: 'DejaVu Sans', sans-serif">r</tspan>
<tspan x="87.985352" y="-0.453125" style="font-size: 30.5px; font-family: 'DejaVu Sans', sans-serif">i</tspan>
<tspan x="96.459229" y="-0.453125" style="font-size: 30.5px; font-family: 'DejaVu Sans', sans-serif">m</tspan>
<tspan x="126.169922" y="-0.453125" style="font-size: 30.5px; font-family: 'DejaVu Sans', sans-serif">e</tspan>
<tspan x="144.93457" y="-0.453125" style="font-size: 30.5px; font-family: 'DejaVu Sans', sans-serif">n</tspan>
<tspan x="164.265137" y="-0.453125" style="font-size: 30.5px; font-family: 'DejaVu Sans', sans-serif">t</tspan>
<tspan x="176.223877" y="-0.453125" style="font-size: 30.5px; font-family: 'DejaVu Sans', sans-serif">a</tspan>
<tspan x="194.914062" y="-0.453125" style="font-size: 30.5px; font-family: 'DejaVu Sans', sans-serif">l</tspan>
<tspan x="203.387939" y="-0.453125" style="font-size: 30.5px; font-family: 'DejaVu Sans', sans-serif"> </tspan>
<tspan x="213.083008" y="-0.453125" style="font-size: 30.5px; font-family: 'DejaVu Sans', sans-serif">Δ</tspan>
<tspan x="233.94751" y="-0.453125" style="font-style: oblique; font-size: 30.5px; font-family: 'DejaVu Sans', sans-serif">H</tspan>
<tspan x="256.88208" y="4.632812" style="font-style: oblique; font-size: 21.35px; font-family: 'DejaVu Sans', sans-serif">f</tspan>
</text>
</g>
</g>
</g>
<g id="matplotlib.axis_4">
<g id="text_61">
<g transform="translate(288.756953 267.885) rotate(-90)">
<text>
<tspan x="0" y="-0.453125" style="font-size: 30.5px; font-family: 'DejaVu Sans', sans-serif">C</tspan>
<tspan x="21.296387" y="-0.453125" style="font-size: 30.5px; font-family: 'DejaVu Sans', sans-serif">a</tspan>
<tspan x="39.986572" y="-0.453125" style="font-size: 30.5px; font-family: 'DejaVu Sans', sans-serif">l</tspan>
<tspan x="48.460449" y="-0.453125" style="font-size: 30.5px; font-family: 'DejaVu Sans', sans-serif">c</tspan>
<tspan x="65.229492" y="-0.453125" style="font-size: 30.5px; font-family: 'DejaVu Sans', sans-serif">u</tspan>
<tspan x="84.560059" y="-0.453125" style="font-size: 30.5px; font-family: 'DejaVu Sans', sans-serif">l</tspan>
<tspan x="93.033936" y="-0.453125" style="font-size: 30.5px; font-family: 'DejaVu Sans', sans-serif">a</tspan>
<tspan x="111.724121" y="-0.453125" style="font-size: 30.5px; font-family: 'DejaVu Sans', sans-serif">t</tspan>
<tspan x="123.682861" y="-0.453125" style="font-size: 30.5px; font-family: 'DejaVu Sans', sans-serif">e</tspan>
<tspan x="142.44751" y="-0.453125" style="font-size: 30.5px; font-family: 'DejaVu Sans', sans-serif">d</tspan>
<tspan x="161.807861" y="-0.453125" style="font-size: 30.5px; font-family: 'DejaVu Sans', sans-serif"> </tspan>
<tspan x="171.50293" y="-0.453125" style="font-size: 30.5px; font-family: 'DejaVu Sans', sans-serif">Δ</tspan>
<tspan x="192.367432" y="-0.453125" style="font-style: oblique; font-size: 30.5px; font-family: 'DejaVu Sans', sans-serif">H</tspan>
<tspan x="215.302002" y="4.632812" style="font-style: oblique; font-size: 21.35px; font-family: 'DejaVu Sans', sans-serif">f</tspan>
</text>
</g>
</g>
</g>
<g id="PathCollection_1">

<g clip-path="url(#pb02ac8a6c4)">
<circle cx="548.4" cy="73.1" r="4.8" style="fill: #249d53; fill-opacity: 0.95"/>
</g>
<g clip-path="url(#pb02ac8a6c4)">
<circle cx="500.308555" cy="120.062752" r="4.8" style="fill: #128a49; fill-opacity: 0.95"/>
</g>
<g clip-path="url(#pb02ac8a6c4)">
<circle cx="514.113253" cy="109.564916" r="4.8" style="fill: #118848; fill-opacity: 0.95"/>
</g>
<g clip-path="url(#pb02ac8a6c4)">
<circle cx="402.605799" cy="215.822162" r="4.8" style="fill: #097940; fill-opacity: 0.95"/>
</g>
<g clip-path="url(#pb02ac8a6c4)">
<circle cx="501.636189" cy="119.178652" r="4.8" style="fill: #0d8044; fill-opacity: 0.95"/>
</g>
<g clip-path="url(#pb02ac8a6c4)">
<circle cx="368.806596" cy="246.415729" r="4.8" style="fill: #0e8245; fill-opacity: 0.95"/>
</g>
<g clip-path="url(#pb02ac8a6c4)">
<circle cx="505.807261" cy="111.104689" r="4.8" style="fill: #8ecf67; fill-opacity: 0.95"/>
</g>
<g clip-path="url(#pb02ac8a6c4)">
<circle cx="437.775851" cy="183.830779" r="4.8" style="fill: #2aa054; fill-opacity: 0.95"/>
</g>
<g clip-path="url(#pb02ac8a6c4)">
<circle cx="442.349504" cy="172.989941" r="4.8" style="fill: #6bbf64; fill-opacity: 0.95"/>
</g>
<g clip-path="url(#pb02ac8a6c4)">
<circle cx="419.72967" cy="200.674844" r="4.8" style="fill: #199750; fill-opacity: 0.95"/>
</g>
<g clip-path="url(#pb02ac8a6c4)">
<circle cx="521.9" cy="90.3" r="4.8" style="fill: #f4fab0; fill-opacity: 0.95"/>
</g>
<g clip-path="url(#pb02ac8a6c4)">
<circle cx="540.4" cy="67.8" r="4.8" style="fill: #eb5a3a; fill-opacity: 0.95"/>
</g>
<g clip-path="url(#pb02ac8a6c4)">
<circle cx="376.220374" cy="237.353362" r="4.8" style="fill: #42ac5a; fill-opacity: 0.95"/>
</g>
<g clip-path="url(#pb02ac8a6c4)">
<circle cx="583.028061" cy="42.819905" r="4.8" style="fill: #07753e; fill-opacity: 0.95"/>
</g>
<g clip-path="url(#pb02ac8a6c4)">
<circle cx="547.29031" cy="82.726472" r="4.8" style="fill: #b1de71; fill-opacity: 0.95"/>
</g>
<g clip-path="url(#pb02ac8a6c4)">
<circle cx="479.352897" cy="147.254289" r="4.8" style="fill: #a0d669; fill-opacity: 0.95"/>
</g>
<g clip-path="url(#pb02ac8a6c4)">
<circle cx="374" cy="243.083395" r="4.8" style="fill: #07753e; fill-opacity: 0.95"/>
</g>
<g clip-path="url(#pb02ac8a6c4)">
<circle cx="480.571884" cy="140.727844" r="4.8" style="fill: #04703b; fill-opacity: 0.95"/>
</g>
<g clip-path="url(#pb02ac8a6c4)">
<circle cx="454.939632" cy="157.041129" r="4.8" style="fill: #dcf08f; fill-opacity: 0.95"/>
</g>
<g clip-path="url(#pb02ac8a6c4)">
<circle cx="433.455004" cy="180.611699" r="4.8" style="fill: #87cb67; fill-opacity: 0.95"/>
</g>
<g clip-path="url(#pb02ac8a6c4)">
<circle cx="558.9" cy="64.1" r="4.8" style="fill: #08773f; fill-opacity: 0.95"/>
</g>
<g clip-path="url(#pb02ac8a6c4)">
<circle cx="561.798181" cy="62.242184" r="4.8" style="fill: #04703b; fill-opacity: 0.95"/>
</g>
<g clip-path="url(#pb02ac8a6c4)">
<circle cx="521.6" cy="89.3" r="4.8" style="fill: #fafdb8; fill-opacity: 0.95"/>
</g>
<g clip-path="url(#pb02ac8a6c4)">
<circle cx="495.502852" cy="125.12175" r="4.8" style="fill: #0c7f43; fill-opacity: 0.95"/>
</g>
<g clip-path="url(#pb02ac8a6c4)">
<circle cx="535.548109" cy="86.866987" r="4.8" style="fill: #0b7d42; fill-opacity: 0.95"/>
</g>
<g clip-path="url(#pb02ac8a6c4)">
<circle cx="479.049412" cy="133.856822" r="4.8" style="fill: #ddf191; fill-opacity: 0.95"/>
</g>
<g clip-path="url(#pb02ac8a6c4)">
<circle cx="370.54751" cy="242.783475" r="4.8" style="fill: #45ad5b; fill-opacity: 0.95"/>
</g>
<g clip-path="url(#pb02ac8a6c4)">
<circle cx="472.9" cy="167.9" r="4.8" style="fill: #a50026; fill-opacity: 0.95"/>
</g>
<g clip-path="url(#pb02ac8a6c4)">
<circle cx="426.649318" cy="191.458871" r="4.8" style="fill: #08773f; fill-opacity: 0.95"/>
</g>
<g clip-path="url(#pb02ac8a6c4)">
<circle cx="540.430619" cy="81.408337" r="4.8" style="fill: #15904c; fill-opacity: 0.95"/>
</g>
<g clip-path="url(#pb02ac8a6c4)">
<circle cx="543.073795" cy="74.032558" r="4.8" style="fill: #b7e075; fill-opacity: 0.95"/>
</g>
<g clip-path="url(#pb02ac8a6c4)">
<circle cx="432.46588" cy="182.199557" r="4.8" style="fill: #73c264; fill-opacity: 0.95"/>
</g>
<g clip-path="url(#pb02ac8a6c4)">
<circle cx="383" cy="234.570694" r="4.8" style="fill: #08773f; fill-opacity: 0.95"/>
</g>
<g clip-path="url(#pb02ac8a6c4)">
<circle cx="400.629452" cy="220.109291" r="4.8" style="fill: #45ad5b; fill-opacity: 0.95"/>
</g>
<g clip-path="url(#pb02ac8a6c4)">
<circle cx="387" cy="229.79086" r="4.8" style="fill: #036e3a; fill-opacity: 0.95"/>
</g>
<g clip-path="url(#pb02ac8a6c4)">
<circle cx="573.64053" cy="58.339653" r="4.8" style="fill: #c7e77f; fill-opacity: 0.95"/>
</g>
<g clip-path="url(#pb02ac8a6c4)">
<circle cx="377.491474" cy="239.125491" r="4.8" style="fill: #006837; fill-opacity: 0.95"/>
</g>
<g clip-path="url(#pb02ac8a6c4)">
<circle cx="537.9" cy="86.7" r="4.8" style="fill: #07753e; fill-opacity: 0.95"/>
</g>
<g clip-path="url(#pb02ac8a6c4)">
<circle cx="550.984453" cy="82.087155" r="4.8" style="fill: #f4fab0; fill-opacity: 0.95"/>
</g>
<g clip-path="url(#pb02ac8a6c4)">
<circle cx="432.890738" cy="185.834658" r="4.8" style="fill: #036e3a; fill-opacity: 0.95"/>
</g>
<g clip-path="url(#pb02ac8a6c4)">
<circle cx="380.798355" cy="244.759712" r="4.8" style="fill: #ebf7a3; fill-opacity: 0.95"/>
</g>
<g clip-path="url(#pb02ac8a6c4)">
<circle cx="570.4" cy="52.6" r="4.8" style="fill: #0a7b41; fill-opacity: 0.95"/>
</g>
<g clip-path="url(#pb02ac8a6c4)">
<circle cx="487.6" cy="145.9" r="4.8" style="fill: #feca79; fill-opacity: 0.95"/>
</g>
<g clip-path="url(#pb02ac8a6c4)">
<circle cx="417.984919" cy="201.238431" r="4.8" style="fill: #0b7d42; fill-opacity: 0.95"/>
</g>
<g clip-path="url(#pb02ac8a6c4)">
<circle cx="437.587275" cy="174.629307" r="4.8" style="fill: #c3e67d; fill-opacity: 0.95"/>
</g>
<g clip-path="url(#pb02ac8a6c4)">
<circle cx="460.156293" cy="158.141083" r="4.8" style="fill: #17934e; fill-opacity: 0.95"/>
</g>
<g clip-path="url(#pb02ac8a6c4)">
<circle cx="569.618589" cy="55.645537" r="4.8" style="fill: #07753e; fill-opacity: 0.95"/>
</g>
<g clip-path="url(#pb02ac8a6c4)">
<circle cx="577.050859" cy="47.859084" r="4.8" style="fill: #016a38; fill-opacity: 0.95"/>
</g>
<g clip-path="url(#pb02ac8a6c4)">
<circle cx="458.483189" cy="167.290195" r="4.8" style="fill: #a2d76a; fill-opacity: 0.95"/>
</g>
<g clip-path="url(#pb02ac8a6c4)">
<circle cx="544.32903" cy="82.189516" r="4.8" style="fill: #3ca959; fill-opacity: 0.95"/>
</g>
<g clip-path="url(#pb02ac8a6c4)">
<circle cx="496.604644" cy="129.328958" r="4.8" style="fill: #73c264; fill-opacity: 0.95"/>
</g>
<g clip-path="url(#pb02ac8a6c4)">
<circle cx="411.331052" cy="197.88586" r="4.8" style="fill: #eef8a8; fill-opacity: 0.95"/>
</g>
<g clip-path="url(#pb02ac8a6c4)">
<circle cx="449.278173" cy="167.424544" r="4.8" style="fill: #3faa59; fill-opacity: 0.95"/>
</g>
<g clip-path="url(#pb02ac8a6c4)">
<circle cx="475.324662" cy="149.446981" r="4.8" style="fill: #69be63; fill-opacity: 0.95"/>
</g>
<g clip-path="url(#pb02ac8a6c4)">
<circle cx="404.846213" cy="214.16651" r="4.8" style="fill: #0f8446; fill-opacity: 0.95"/>
</g>
<g clip-path="url(#pb02ac8a6c4)">
<circle cx="557.688578" cy="65.431175" r="4.8" style="fill: #0e8245; fill-opacity: 0.95"/>
</g>
<g clip-path="url(#pb02ac8a6c4)">
<circle cx="469.07395" cy="146.84102" r="4.8" style="fill: #7dc765; fill-opacity: 0.95"/>
</g>
<g clip-path="url(#pb02ac8a6c4)">
<circle cx="529.5" cy="88.8" r="4.8" style="fill: #249d53; fill-opacity: 0.95"/>
</g>
<g clip-path="url(#pb02ac8a6c4)">
<circle cx="453.229033" cy="166.975585" r="4.8" style="fill: #04703b; fill-opacity: 0.95"/>
</g>
<g clip-path="url(#pb02ac8a6c4)">
<circle cx="553.816135" cy="68.993704" r="4.8" style="fill: #108647; fill-opacity: 0.95"/>
</g>
<g clip-path="url(#pb02ac8a6c4)">
<circle cx="487.555428" cy="134.135528" r="4.8" style="fill: #05713c; fill-opacity: 0.95"/>
</g>
<g clip-path="url(#pb02ac8a6c4)">
<circle cx="382.842516" cy="232.404959" r="4.8" style="fill: #15904c; fill-opacity: 0.95"/>
</g>
<g clip-path="url(#pb02ac8a6c4)">
<circle cx="527.4" cy="109.8" r="4.8" style="fill: #fdb567; fill-opacity: 0.95"/>
</g>
<g clip-path="url(#pb02ac8a6c4)">
<circle cx="409.898467" cy="214.15885" r="4.8" style="fill: #abdb6d; fill-opacity: 0.95"/>
</g>
<g clip-path="url(#pb02ac8a6c4)">
<circle cx="539.214975" cy="82.385875" r="4.8" style="fill: #17934e; fill-opacity: 0.95"/>
</g>
<g clip-path="url(#pb02ac8a6c4)">
<circle cx="373.442524" cy="243.282981" r="4.8" style="fill: #026c39; fill-opacity: 0.95"/>
</g>
<g clip-path="url(#pb02ac8a6c4)">
<circle cx="564.382732" cy="57.142572" r="4.8" style="fill: #3faa59; fill-opacity: 0.95"/>
</g>
<g clip-path="url(#pb02ac8a6c4)">
<circle cx="416.907472" cy="196.538027" r="4.8" style="fill: #84ca66; fill-opacity: 0.95"/>
</g>
<g clip-path="url(#pb02ac8a6c4)">
<circle cx="369.118635" cy="242.860215" r="4.8" style="fill: #75c465; fill-opacity: 0.95"/>
</g>
<g clip-path="url(#pb02ac8a6c4)">
<circle cx="476.671439" cy="150.526841" r="4.8" style="fill: #b3df72; fill-opacity: 0.95"/>
</g>
<g clip-path="url(#pb02ac8a6c4)">
<circle cx="388.888084" cy="220.7551" r="4.8" style="fill: #d1ec86; fill-opacity: 0.95"/>
</g>
<g clip-path="url(#pb02ac8a6c4)">
<circle cx="371.082577" cy="245.45898" r="4.8" style="fill: #016a38; fill-opacity: 0.95"/>
</g>
<g clip-path="url(#pb02ac8a6c4)">
<circle cx="513.101275" cy="112.000829" r="4.8" style="fill: #39a758; fill-opacity: 0.95"/>
</g>
<g clip-path="url(#pb02ac8a6c4)">
<circle cx="425.80145" cy="192.301491" r="4.8" style="fill: #07753e; fill-opacity: 0.95"/>
</g>
<g clip-path="url(#pb02ac8a6c4)">
<circle cx="546.474304" cy="79.08035" r="4.8" style="fill: #17934e; fill-opacity: 0.95"/>
</g>
<g clip-path="url(#pb02ac8a6c4)">
<circle cx="567.316068" cy="52.763238" r="4.8" style="fill: #7ac665; fill-opacity: 0.95"/>
</g>
<g clip-path="url(#pb02ac8a6c4)">
<circle cx="561.652753" cy="62.436316" r="4.8" style="fill: #036e3a; fill-opacity: 0.95"/>
</g>
<g clip-path="url(#pb02ac8a6c4)">
<circle cx="497.207759" cy="124.161704" r="4.8" style="fill: #036e3a; fill-opacity: 0.95"/>
</g>
<g clip-path="url(#pb02ac8a6c4)">
<circle cx="456.766341" cy="161.527279" r="4.8" style="fill: #16914d; fill-opacity: 0.95"/>
</g>
<g clip-path="url(#pb02ac8a6c4)">
<circle cx="524.783475" cy="98.802238" r="4.8" style="fill: #0a7b41; fill-opacity: 0.95"/>
</g>
<g clip-path="url(#pb02ac8a6c4)">
<circle cx="522.244814" cy="100.38614" r="4.8" style="fill: #016a38; fill-opacity: 0.95"/>
</g>
<g clip-path="url(#pb02ac8a6c4)">
<circle cx="556.687544" cy="64.959843" r="4.8" style="fill: #2da155; fill-opacity: 0.95"/>
</g>
<g clip-path="url(#pb02ac8a6c4)">
<circle cx="477.678803" cy="138.129608" r="4.8" style="fill: #8ccd67; fill-opacity: 0.95"/>
</g>
<g clip-path="url(#pb02ac8a6c4)">
<circle cx="505.484001" cy="116.94874" r="4.8" style="fill: #05713c; fill-opacity: 0.95"/>
</g>
<g clip-path="url(#pb02ac8a6c4)">
<circle cx="570.9" cy="45.8" r="4.8" style="fill: #d9ef8b; fill-opacity: 0.95"/>
</g>
<g clip-path="url(#pb02ac8a6c4)">
<circle cx="448.392019" cy="170.560273" r="4.8" style="fill: #08773f; fill-opacity: 0.95"/>
</g>
<g clip-path="url(#pb02ac8a6c4)">
<circle cx="400.570212" cy="221.179387" r="4.8" style="fill: #6ec064; fill-opacity: 0.95"/>
</g>
<g clip-path="url(#pb02ac8a6c4)">
<circle cx="394.544694" cy="220.908089" r="4.8" style="fill: #199750; fill-opacity: 0.95"/>
</g>
<g clip-path="url(#pb02ac8a6c4)">
<circle cx="576.904019" cy="47.353642" r="4.8" style="fill: #097940; fill-opacity: 0.95"/>
</g>
<g clip-path="url(#pb02ac8a6c4)">
<circle cx="517.478938" cy="97.730586" r="4.8" style="fill: #cbe982; fill-opacity: 0.95"/>
</g>
<g clip-path="url(#pb02ac8a6c4)">
<circle cx="406.751702" cy="211.124588" r="4.8" style="fill: #006837; fill-opacity: 0.95"/>
</g>
<g clip-path="url(#pb02ac8a6c4)">
<circle cx="478.114815" cy="148.709191" r="4.8" style="fill: #a9da6c; fill-opacity: 0.95"/>
</g>
<g clip-path="url(#pb02ac8a6c4)">
<circle cx="479.215985" cy="142.442657" r="4.8" style="fill: #097940; fill-opacity: 0.95"/>
</g>
<g clip-path="url(#pb02ac8a6c4)">
<circle cx="409.572115" cy="204.092507" r="4.8" style="fill: #75c465; fill-opacity: 0.95"/>
</g>
<g clip-path="url(#pb02ac8a6c4)">
<circle cx="446.033037" cy="170.742641" r="4.8" style="fill: #39a758; fill-opacity: 0.95"/>
</g>
<g clip-path="url(#pb02ac8a6c4)">
<circle cx="463.107709" cy="157.418859" r="4.8" style="fill: #036e3a; fill-opacity: 0.95"/>
</g>
<g clip-path="url(#pb02ac8a6c4)">
<circle cx="403.234492" cy="214.891594" r="4.8" style="fill: #04703b; fill-opacity: 0.95"/>
</g>
<g clip-path="url(#pb02ac8a6c4)">
<circle cx="556.2" cy="76.7" r="4.8" style="fill: #addc6f; fill-opacity: 0.95"/>
</g>
<g clip-path="url(#pb02ac8a6c4)">
<circle cx="572" cy="65.7" r="4.8" style="fill: #fed884; fill-opacity: 0.95"/>
</g>
<g clip-path="url(#pb02ac8a6c4)">
<circle cx="534.427011" cy="86.031681" r="4.8" style="fill: #39a758; fill-opacity: 0.95"/>
</g>
<g clip-path="url(#pb02ac8a6c4)">
<circle cx="480.215201" cy="139.663046" r="4.8" style="fill: #0e8245; fill-opacity: 0.95"/>
</g>
<g clip-path="url(#pb02ac8a6c4)">
<circle cx="432.835918" cy="185.880482" r="4.8" style="fill: #036e3a; fill-opacity: 0.95"/>
</g>
<g clip-path="url(#pb02ac8a6c4)">
<circle cx="453.5" cy="178" r="4.8" style="fill: #fed884; fill-opacity: 0.95"/>
</g>
<g clip-path="url(#pb02ac8a6c4)">
<circle cx="460.495573" cy="165.198496" r="4.8" style="fill: #9bd469; fill-opacity: 0.95"/>
</g>
<g clip-path="url(#pb02ac8a6c4)">
<circle cx="374.555664" cy="243.755927" r="4.8" style="fill: #17934e; fill-opacity: 0.95"/>
</g>
<g clip-path="url(#pb02ac8a6c4)">
<circle cx="567.3" cy="59.4" r="4.8" style="fill: #07753e; fill-opacity: 0.95"/>
</g>
<g clip-path="url(#pb02ac8a6c4)">
<circle cx="442.749271" cy="178.195485" r="4.8" style="fill: #148e4b; fill-opacity: 0.95"/>
</g>
<g clip-path="url(#pb02ac8a6c4)">
<circle cx="546.50167" cy="82.24252" r="4.8" style="fill: #89cc67; fill-opacity: 0.95"/>
</g>
<g clip-path="url(#pb02ac8a6c4)">
<circle cx="545.385338" cy="77.600516" r="4.8" style="fill: #097940; fill-opacity: 0.95"/>
</g>
<g clip-path="url(#pb02ac8a6c4)">
<circle cx="539.29311" cy="88.172477" r="4.8" style="fill: #69be63; fill-opacity: 0.95"/>
</g>
<g clip-path="url(#pb02ac8a6c4)">
<circle cx="572.794797" cy="60.622877" r="4.8" style="fill: #e8f59f; fill-opacity: 0.95"/>
</g>
<g clip-path="url(#pb02ac8a6c4)">
<circle cx="483.728664" cy="132.866079" r="4.8" style="fill: #7ac665; fill-opacity: 0.95"/>
</g>
<g clip-path="url(#pb02ac8a6c4)">
<circle cx="503.912871" cy="118.973616" r="4.8" style="fill: #0c7f43; fill-opacity: 0.95"/>
</g>
<g clip-path="url(#pb02ac8a6c4)">
<circle cx="568.427628" cy="59.976868" r="4.8" style="fill: #60ba62; fill-opacity: 0.95"/>
</g>
<g clip-path="url(#pb02ac8a6c4)">
<circle cx="487.302521" cy="132.61499" r="4.8" style="fill: #118848; fill-opacity: 0.95"/>
</g>
<g clip-path="url(#pb02ac8a6c4)">
<circle cx="410.880568" cy="205.406498" r="4.8" style="fill: #17934e; fill-opacity: 0.95"/>
</g>
<g clip-path="url(#pb02ac8a6c4)">
<circle cx="557.263263" cy="68.792372" r="4.8" style="fill: #18954f; fill-opacity: 0.95"/>
</g>
<g clip-path="url(#pb02ac8a6c4)">
<circle cx="354" cy="259.184565" r="4.8" style="fill: #2da155; fill-opacity: 0.95"/>
</g>
<g clip-path="url(#pb02ac8a6c4)">
<circle cx="498.692151" cy="122.771014" r="4.8" style="fill: #036e3a; fill-opacity: 0.95"/>
</g>
<g clip-path="url(#pb02ac8a6c4)">
<circle cx="463.72409" cy="157.025123" r="4.8" style="fill: #06733d; fill-opacity: 0.95"/>
</g>
<g clip-path="url(#pb02ac8a6c4)">
<circle cx="444.769376" cy="180.967551" r="4.8" style="fill: #b1de71; fill-opacity: 0.95"/>
</g>
<g clip-path="url(#pb02ac8a6c4)">
<circle cx="555.449713" cy="70.050517" r="4.8" style="fill: #128a49; fill-opacity: 0.95"/>
</g>
<g clip-path="url(#pb02ac8a6c4)">
<circle cx="551" cy="77.3" r="4.8" style="fill: #199750; fill-opacity: 0.95"/>
</g>
<g clip-path="url(#pb02ac8a6c4)">
<circle cx="421.463223" cy="200.586457" r="4.8" style="fill: #57b65f; fill-opacity: 0.95"/>
</g>
<g clip-path="url(#pb02ac8a6c4)">
<circle cx="505.8" cy="128.2" r="4.8" style="fill: #fee08b; fill-opacity: 0.95"/>
</g>
<g clip-path="url(#pb02ac8a6c4)">
<circle cx="530.435486" cy="97.059666" r="4.8" style="fill: #78c565; fill-opacity: 0.95"/>
</g>
<g clip-path="url(#pb02ac8a6c4)">
<circle cx="480.125273" cy="139.871528" r="4.8" style="fill: #0c7f43; fill-opacity: 0.95"/>
</g>
<g clip-path="url(#pb02ac8a6c4)">
<circle cx="396.429016" cy="227.22698" r="4.8" style="fill: #afdd70; fill-opacity: 0.95"/>
</g>
<g clip-path="url(#pb02ac8a6c4)">
<circle cx="511.038383" cy="103.593539" r="4.8" style="fill: #d5ed88; fill-opacity: 0.95"/>
</g>
<g clip-path="url(#pb02ac8a6c4)">
<circle cx="562.8" cy="69.4" r="4.8" style="fill: #a5d86a; fill-opacity: 0.95"/>
</g>
<g clip-path="url(#pb02ac8a6c4)">
<circle cx="579.765266" cy="44.182586" r="4.8" style="fill: #0f8446; fill-opacity: 0.95"/>
</g>
<g clip-path="url(#pb02ac8a6c4)">
<circle cx="528.437762" cy="96.615595" r="4.8" style="fill: #1e9a51; fill-opacity: 0.95"/>
</g>
<g clip-path="url(#pb02ac8a6c4)">
<circle cx="556.800638" cy="70.731041" r="4.8" style="fill: #51b35e; fill-opacity: 0.95"/>
</g>
<g clip-path="url(#pb02ac8a6c4)">
<circle cx="460.879322" cy="157.947022" r="4.8" style="fill: #118848; fill-opacity: 0.95"/>
</g>
<g clip-path="url(#pb02ac8a6c4)">
<circle cx="541" cy="94.1" r="4.8" style="fill: #eff8aa; fill-opacity: 0.95"/>
</g>
<g clip-path="url(#pb02ac8a6c4)">
<circle cx="528.325852" cy="97.675072" r="4.8" style="fill: #42ac5a; fill-opacity: 0.95"/>
</g>
<g clip-path="url(#pb02ac8a6c4)">
<circle cx="449.960373" cy="169.281719" r="4.8" style="fill: #05713c; fill-opacity: 0.95"/>
</g>
<g clip-path="url(#pb02ac8a6c4)">
<circle cx="465.842692" cy="151.94216" r="4.8" style="fill: #30a356; fill-opacity: 0.95"/>
</g>
<g clip-path="url(#pb02ac8a6c4)">
<circle cx="558.151745" cy="60.148527" r="4.8" style="fill: #a7d96b; fill-opacity: 0.95"/>
</g>
<g clip-path="url(#pb02ac8a6c4)">
<circle cx="375.70694" cy="241.021762" r="4.8" style="fill: #016a38; fill-opacity: 0.95"/>
</g>
<g clip-path="url(#pb02ac8a6c4)">
<circle cx="540.166997" cy="77.740558" r="4.8" style="fill: #9bd469; fill-opacity: 0.95"/>
</g>
<g clip-path="url(#pb02ac8a6c4)">
<circle cx="484.887065" cy="137.812925" r="4.8" style="fill: #148e4b; fill-opacity: 0.95"/>
</g>
<g clip-path="url(#pb02ac8a6c4)">
<circle cx="429.422303" cy="184.805072" r="4.8" style="fill: #7dc765; fill-opacity: 0.95"/>
</g>
<g clip-path="url(#pb02ac8a6c4)">
<circle cx="464.007293" cy="156.208703" r="4.8" style="fill: #006837; fill-opacity: 0.95"/>
</g>
<g clip-path="url(#pb02ac8a6c4)">
<circle cx="414.440872" cy="202.837052" r="4.8" style="fill: #0c7f43; fill-opacity: 0.95"/>
</g>
<g clip-path="url(#pb02ac8a6c4)">
<circle cx="514.733745" cy="107.156992" r="4.8" style="fill: #06733d; fill-opacity: 0.95"/>
</g>
<g clip-path="url(#pb02ac8a6c4)">
<circle cx="556.526789" cy="61.217679" r="4.8" style="fill: #b5df74; fill-opacity: 0.95"/>
</g>
<g clip-path="url(#pb02ac8a6c4)">
<circle cx="469.029727" cy="159.519829" r="4.8" style="fill: #ddf191; fill-opacity: 0.95"/>
</g>
<g clip-path="url(#pb02ac8a6c4)">
<circle cx="356.5" cy="260.409481" r="4.8" style="fill: #0e8245; fill-opacity: 0.95"/>
</g>
<g clip-path="url(#pb02ac8a6c4)">
<circle cx="464.136482" cy="150.524389" r="4.8" style="fill: #9dd569; fill-opacity: 0.95"/>
</g>
<g clip-path="url(#pb02ac8a6c4)">
<circle cx="525.8" cy="100.9" r="4.8" style="fill: #2da155; fill-opacity: 0.95"/>
</g>
<g clip-path="url(#pb02ac8a6c4)">
<circle cx="491.053963" cy="134.419416" r="4.8" style="fill: #6bbf64; fill-opacity: 0.95"/>
</g>
<g clip-path="url(#pb02ac8a6c4)">
<circle cx="399.41935" cy="217.173625" r="4.8" style="fill: #0d8044; fill-opacity: 0.95"/>
</g>
<g clip-path="url(#pb02ac8a6c4)">
<circle cx="337" cy="276.588534" r="4.8" style="fill: #128a49; fill-opacity: 0.95"/>
</g>
<g clip-path="url(#pb02ac8a6c4)">
<circle cx="533.7" cy="92" r="4.8" style="fill: #15904c; fill-opacity: 0.95"/>
</g>
<g clip-path="url(#pb02ac8a6c4)">
<circle cx="546.136778" cy="77.937161" r="4.8" style="fill: #04703b; fill-opacity: 0.95"/>
</g>
<g clip-path="url(#pb02ac8a6c4)">
<circle cx="440.159879" cy="171.867114" r="4.8" style="fill: #cbe982; fill-opacity: 0.95"/>
</g>
<g clip-path="url(#pb02ac8a6c4)">
<circle cx="573.40265" cy="54.151297" r="4.8" style="fill: #36a657; fill-opacity: 0.95"/>
</g>
<g clip-path="url(#pb02ac8a6c4)">
<circle cx="468.700501" cy="149.562556" r="4.8" style="fill: #249d53; fill-opacity: 0.95"/>
</g>
<g clip-path="url(#pb02ac8a6c4)">
<circle cx="409.558863" cy="213.017063" r="4.8" style="fill: #7ac665; fill-opacity: 0.95"/>
</g>
<g clip-path="url(#pb02ac8a6c4)">
<circle cx="503.020621" cy="121.311185" r="4.8" style="fill: #2aa054; fill-opacity: 0.95"/>
</g>
<g clip-path="url(#pb02ac8a6c4)">
<circle cx="444.3" cy="189.8" r="4.8" style="fill: #fca55d; fill-opacity: 0.95"/>
</g>
<g clip-path="url(#pb02ac8a6c4)">
<circle cx="414.506679" cy="205.869579" r="4.8" style="fill: #219c52; fill-opacity: 0.95"/>
</g>
<g clip-path="url(#pb02ac8a6c4)">
<circle cx="493.421019" cy="129.350832" r="4.8" style="fill: #108647; fill-opacity: 0.95"/>
</g>
<g clip-path="url(#pb02ac8a6c4)">
<circle cx="449.065519" cy="169.135724" r="4.8" style="fill: #138c4a; fill-opacity: 0.95"/>
</g>
<g clip-path="url(#pb02ac8a6c4)">
<circle cx="500.496137" cy="121.229348" r="4.8" style="fill: #016a38; fill-opacity: 0.95"/>
</g>
<g clip-path="url(#pb02ac8a6c4)">
<circle cx="451.728469" cy="168.803614" r="4.8" style="fill: #097940; fill-opacity: 0.95"/>
</g>
<g clip-path="url(#pb02ac8a6c4)">
<circle cx="446.435421" cy="169.640629" r="4.8" style="fill: #54b45f; fill-opacity: 0.95"/>
</g>
<g clip-path="url(#pb02ac8a6c4)">
<circle cx="491.839867" cy="129.577567" r="4.8" style="fill: #006837; fill-opacity: 0.95"/>
</g>
<g clip-path="url(#pb02ac8a6c4)">
<circle cx="528.966264" cy="93.515983" r="4.8" style="fill: #06733d; fill-opacity: 0.95"/>
</g>
<g clip-path="url(#pb02ac8a6c4)">
<circle cx="552" cy="53.1" r="4.8" style="fill: #a50026; fill-opacity: 0.95"/>
</g>
<g clip-path="url(#pb02ac8a6c4)">
<circle cx="515.675825" cy="102.568805" r="4.8" style="fill: #70c164; fill-opacity: 0.95"/>
</g>
<g clip-path="url(#pb02ac8a6c4)">
<circle cx="397.541035" cy="219.380637" r="4.8" style="fill: #07753e; fill-opacity: 0.95"/>
</g>
<g clip-path="url(#pb02ac8a6c4)">
<circle cx="506.178908" cy="115.409391" r="4.8" style="fill: #06733d; fill-opacity: 0.95"/>
</g>
<g clip-path="url(#pb02ac8a6c4)">
<circle cx="428.139932" cy="191.964135" r="4.8" style="fill: #118848; fill-opacity: 0.95"/>
</g>
<g clip-path="url(#pb02ac8a6c4)">
<circle cx="476.982424" cy="152.469221" r="4.8" style="fill: #e9f6a1; fill-opacity: 0.95"/>
</g>
<g clip-path="url(#pb02ac8a6c4)">
<circle cx="508.235392" cy="113.807182" r="4.8" style="fill: #016a38; fill-opacity: 0.95"/>
</g>
<g clip-path="url(#pb02ac8a6c4)">
<circle cx="486.289203" cy="134.996607" r="4.8" style="fill: #006837; fill-opacity: 0.95"/>
</g>
<g clip-path="url(#pb02ac8a6c4)">
<circle cx="423.051831" cy="194.845138" r="4.8" style="fill: #08773f; fill-opacity: 0.95"/>
</g>
<g clip-path="url(#pb02ac8a6c4)">
<circle cx="369.137306" cy="251.353322" r="4.8" style="fill: #6ec064; fill-opacity: 0.95"/>
</g>
<g clip-path="url(#pb02ac8a6c4)">
<circle cx="556.209305" cy="68.468498" r="4.8" style="fill: #07753e; fill-opacity: 0.95"/>
</g>
<g clip-path="url(#pb02ac8a6c4)">
<circle cx="481.127863" cy="139.08137" r="4.8" style="fill: #0a7b41; fill-opacity: 0.95"/>
</g>
<g clip-path="url(#pb02ac8a6c4)">
<circle cx="456.915568" cy="164.566652" r="4.8" style="fill: #138c4a; fill-opacity: 0.95"/>
</g>
<g clip-path="url(#pb02ac8a6c4)">
<circle cx="441.454703" cy="168.752465" r="4.8" style="fill: #f2faae; fill-opacity: 0.95"/>
</g>
<g clip-path="url(#pb02ac8a6c4)">
<circle cx="439.771164" cy="179.932638" r="4.8" style="fill: #05713c; fill-opacity: 0.95"/>
</g>
<g clip-path="url(#pb02ac8a6c4)">
<circle cx="408.112649" cy="209.135127" r="4.8" style="fill: #097940; fill-opacity: 0.95"/>
</g>
<g clip-path="url(#pb02ac8a6c4)">
<circle cx="533.293435" cy="91.217827" r="4.8" style="fill: #118848; fill-opacity: 0.95"/>
</g>
<g clip-path="url(#pb02ac8a6c4)">
<circle cx="579.409543" cy="47.981296" r="4.8" style="fill: #279f53; fill-opacity: 0.95"/>
</g>
<g clip-path="url(#pb02ac8a6c4)">
<circle cx="474.534406" cy="139.173761" r="4.8" style="fill: #c5e67e; fill-opacity: 0.95"/>
</g>
<g clip-path="url(#pb02ac8a6c4)">
<circle cx="400.443141" cy="219.031503" r="4.8" style="fill: #18954f; fill-opacity: 0.95"/>
</g>
<g clip-path="url(#pb02ac8a6c4)">
<circle cx="495.149579" cy="132.028513" r="4.8" style="fill: #9dd569; fill-opacity: 0.95"/>
</g>
<g clip-path="url(#pb02ac8a6c4)">
<circle cx="563.246026" cy="56.939902" r="4.8" style="fill: #70c164; fill-opacity: 0.95"/>
</g>
<g clip-path="url(#pb02ac8a6c4)">
<circle cx="491.059336" cy="133.399818" r="4.8" style="fill: #42ac5a; fill-opacity: 0.95"/>
</g>
<g clip-path="url(#pb02ac8a6c4)">
<circle cx="401.363594" cy="216.259076" r="4.8" style="fill: #006837; fill-opacity: 0.95"/>
</g>
<g clip-path="url(#pb02ac8a6c4)">
<circle cx="440.442988" cy="179.293314" r="4.8" style="fill: #05713c; fill-opacity: 0.95"/>
</g>
<g clip-path="url(#pb02ac8a6c4)">
<circle cx="506.579488" cy="111.914299" r="4.8" style="fill: #57b65f; fill-opacity: 0.95"/>
</g>
<g clip-path="url(#pb02ac8a6c4)">
<circle cx="516.79828" cy="105.816516" r="4.8" style="fill: #016a38; fill-opacity: 0.95"/>
</g>
<g clip-path="url(#pb02ac8a6c4)">
<circle cx="416.644753" cy="201.08446" r="4.8" style="fill: #07753e; fill-opacity: 0.95"/>
</g>
<g clip-path="url(#pb02ac8a6c4)">
<circle cx="503.747781" cy="118.569974" r="4.8" style="fill: #04703b; fill-opacity: 0.95"/>
</g>
<g clip-path="url(#pb02ac8a6c4)">
<circle cx="530.286183" cy="91.797706" r="4.8" style="fill: #0c7f43; fill-opacity: 0.95"/>
</g>
<g clip-path="url(#pb02ac8a6c4)">
<circle cx="572.108805" cy="52.047057" r="4.8" style="fill: #08773f; fill-opacity: 0.95"/>
</g>
<g clip-path="url(#pb02ac8a6c4)">
<circle cx="558.956289" cy="68.576235" r="4.8" style="fill: #4eb15d; fill-opacity: 0.95"/>
</g>
<g clip-path="url(#pb02ac8a6c4)">
<circle cx="478.808774" cy="143.840021" r="4.8" style="fill: #16914d; fill-opacity: 0.95"/>
</g>
<g clip-path="url(#pb02ac8a6c4)">
<circle cx="581.615392" cy="46.089202" r="4.8" style="fill: #2da155; fill-opacity: 0.95"/>
</g>
<g clip-path="url(#pb02ac8a6c4)">
<circle cx="585.4" cy="47.3" r="4.8" style="fill: #addc6f; fill-opacity: 0.95"/>
</g>
<g clip-path="url(#pb02ac8a6c4)">
<circle cx="495.438206" cy="134.681035" r="4.8" style="fill: #e6f59d; fill-opacity: 0.95"/>
</g>
<g clip-path="url(#pb02ac8a6c4)">
<circle cx="407.464358" cy="215.217592" r="4.8" style="fill: #82c966; fill-opacity: 0.95"/>
</g>
<g clip-path="url(#pb02ac8a6c4)">
<circle cx="378" cy="237.022461" r="4.8" style="fill: #15904c; fill-opacity: 0.95"/>
</g>
<g clip-path="url(#pb02ac8a6c4)">
<circle cx="550.536053" cy="75.506577" r="4.8" style="fill: #219c52; fill-opacity: 0.95"/>
</g>
<g clip-path="url(#pb02ac8a6c4)">
<circle cx="528.222525" cy="94.038041" r="4.8" style="fill: #097940; fill-opacity: 0.95"/>
</g>
<g clip-path="url(#pb02ac8a6c4)">
<circle cx="549.9" cy="63.6" r="4.8" style="fill: #fafdb8; fill-opacity: 0.95"/>
</g>
<g clip-path="url(#pb02ac8a6c4)">
<circle cx="566.108239" cy="57.334405" r="4.8" style="fill: #0e8245; fill-opacity: 0.95"/>
</g>
<g clip-path="url(#pb02ac8a6c4)">
<circle cx="434.065311" cy="184.364821" r="4.8" style="fill: #07753e; fill-opacity: 0.95"/>
</g>
<g clip-path="url(#pb02ac8a6c4)">
<circle cx="387.763051" cy="228.827372" r="4.8" style="fill: #06733d; fill-opacity: 0.95"/>
</g>
<g clip-path="url(#pb02ac8a6c4)">
<circle cx="447.819843" cy="165.800506" r="4.8" style="fill: #a9da6c; fill-opacity: 0.95"/>
</g>
<g clip-path="url(#pb02ac8a6c4)">
<circle cx="333.5" cy="281.780451" r="4.8" style="fill: #05713c; fill-opacity: 0.95"/>
</g>
<g clip-path="url(#pb02ac8a6c4)">
<circle cx="500.739549" cy="118.314277" r="4.8" style="fill: #39a758; fill-opacity: 0.95"/>
</g>
<g clip-path="url(#pb02ac8a6c4)">
<circle cx="419.745816" cy="196.772563" r="4.8" style="fill: #199750; fill-opacity: 0.95"/>
</g>
<g clip-path="url(#pb02ac8a6c4)">
<circle cx="575.1" cy="54.7" r="4.8" style="fill: #2da155; fill-opacity: 0.95"/>
</g>
<g clip-path="url(#pb02ac8a6c4)">
<circle cx="530.643141" cy="92.570209" r="4.8" style="fill: #016a38; fill-opacity: 0.95"/>
</g>
<g clip-path="url(#pb02ac8a6c4)">
<circle cx="406.99934" cy="211.456083" r="4.8" style="fill: #07753e; fill-opacity: 0.95"/>
</g>
<g clip-path="url(#pb02ac8a6c4)">
<circle cx="502.390714" cy="120.962964" r="4.8" style="fill: #138c4a; fill-opacity: 0.95"/>
</g>
<g clip-path="url(#pb02ac8a6c4)">
<circle cx="544.095356" cy="82.351827" r="4.8" style="fill: #39a758; fill-opacity: 0.95"/>
</g>
<g clip-path="url(#pb02ac8a6c4)">
<circle cx="526.9" cy="109.7" r="4.8" style="fill: #fdad60; fill-opacity: 0.95"/>
</g>
<g clip-path="url(#pb02ac8a6c4)">
<circle cx="510.076318" cy="117.146511" r="4.8" style="fill: #89cc67; fill-opacity: 0.95"/>
</g>
<g clip-path="url(#pb02ac8a6c4)">
<circle cx="418.112792" cy="199.607509" r="4.8" style="fill: #08773f; fill-opacity: 0.95"/>
</g>
<g clip-path="url(#pb02ac8a6c4)">
<circle cx="549.9" cy="84.6" r="4.8" style="fill: #e3f399; fill-opacity: 0.95"/>
</g>
</g>
<g id="patch_8">
<path d="M 303.9 309.9
L 303.9 2
" style="fill: none; stroke: #000000; stroke-width: 1.9; stroke-linejoin: miter; stroke-linecap: square"/>
</g>
<g id="patch_9">
<path d="M 625.8 309.9
L 625.8 2
" style="fill: none; stroke: #000000; stroke-width: 1.9; stroke-linejoin: miter; stroke-linecap: square"/>
</g>
<g id="patch_10">
<path d="M 303.9 309.9
L 625.8 309.9
" style="fill: none; stroke: #000000; stroke-width: 1.9; stroke-linejoin: miter; stroke-linecap: square"/>
</g>
<g id="patch_11">
<path d="M 303.9 2
L 625.8 2
" style="fill: none; stroke: #000000; stroke-width: 1.9; stroke-linejoin: miter; stroke-linecap: square"/>
</g>
<g id="line2d_254">
<path d="M 318.3 295.9
L 610.4 16
" clip-path="url(#pb02ac8a6c4)" style="fill: none; stroke-dasharray: 13.024,5.632; stroke-dashoffset: 0; stroke: #000000; stroke-width: 3.52"/>
</g>
<g id="text_62">
<text style="font-size: 30.5px; font-family: 'DejaVu Sans', sans-serif" transform="translate(315 33.346672)">MAE:</text>
<text style="font-size: 30.5px; font-family: 'DejaVu Sans', sans-serif" transform="translate(315 67.5)">51 meV/atom</text>
</g>
</g>
<g id="axes_3">
<g id="patch_12">
<path d="M 646 309.6
L 660.9 309.6
L 660.9 2.3
L 646 2.3
z
" style="fill: #ffffff"/>
</g>
<g id="cbgrad"><defs><linearGradient id="cbgradient" x1="0" y1="1" x2="0" y2="0"><stop offset="0.0000" stop-color="#006837"/><stop offset="0.0312" stop-color="#08773f"/><stop offset="0.0625" stop-color="#108647"/><stop offset="0.0938" stop-color="#18954f"/><stop offset="0.1250" stop-color="#2da155"/><stop offset="0.1562" stop-color="#45ad5b"/><stop offset="0.1875" stop-color="#5db961"/><stop offset="0.2188" stop-color="#73c264"/><stop offset="0.2500" stop-color="#87cb67"/><stop offset="0.2812" stop-color="#9bd469"/><stop offset="0.3125" stop-color="#addc6f"/><stop offset="0.3438" stop-color="#bde379"/><stop offset="0.3750" stop-color="#cdea83"/><stop offset="0.4062" stop-color="#dcf08f"/><stop offset="0.4375" stop-color="#e8f59f"/><stop offset="0.4688" stop-color="#f4fab0"/><stop offset="0.5000" stop-color="#fffebe"/><stop offset="0.5312" stop-color="#fff5ae"/><stop offset="0.5625" stop-color="#feeb9d"/><stop offset="0.5938" stop-color="#fee18d"/><stop offset="0.6250" stop-color="#fed27f"/><stop offset="0.6562" stop-color="#fdc372"/><stop offset="0.6875" stop-color="#fdb365"/><stop offset="0.7188" stop-color="#fba05b"/><stop offset="0.7500" stop-color="#f88c51"/><stop offset="0.7812" stop-color="#f57748"/><stop offset="0.8125" stop-color="#ef633f"/><stop offset="0.8438" stop-color="#e65036"/><stop offset="0.8750" stop-color="#dd3d2d"/><stop offset="0.9062" stop-color="#d22b27"/><stop offset="0.9375" stop-color="#c21c27"/><stop offset="0.9688" stop-color="#b30d26"/><stop offset="1.0000" stop-color="#a50026"/></linearGradient></defs><rect x="646.000" y="2.300" width="14.900" height="307.300" fill="url(#cbgradient)"/></g>
<g id="matplotlib.axis_5"/>
<g id="matplotlib.axis_6">
<g id="ytick_9">
<g id="line2d_255">

<g>
<path d="M 0 0 L 8.3 0" transform="translate(660.9 221.8)" style="stroke: #000000; stroke-width: 1.9"/>
</g>
</g>
<g id="text_63">
<text style="font-size: 23.7px; font-family: 'DejaVu Sans', sans-serif; text-anchor: start" x="677.4" y="230.804148" transform="rotate(-0 677.4 230.804148)">100</text>
</g>
</g>
<g id="ytick_10">
<g id="line2d_256">
<g>
<path d="M 0 0 L 8.3 0" transform="translate(660.9 134)" style="stroke: #000000; stroke-width: 1.9"/>
</g>
</g>
<g id="text_64">
<text style="font-size: 23.7px; font-family: 'DejaVu Sans', sans-serif; text-anchor: start" x="677.4" y="143.004148" transform="rotate(-0 677.4 143.004148)">200</text>
</g>
</g>
<g id="ytick_11">
<g id="line2d_257">
<g>
<path d="M 0 0 L 8.3 0" transform="translate(660.9 46.2)" style="stroke: #000000; stroke-width: 1.9"/>
</g>
</g>
<g id="text_65">
<text style="font-size: 23.7px; font-family: 'DejaVu Sans', sans-serif; text-anchor: start" x="677.4" y="55.204148" transform="rotate(-0 677.4 55.204148)">300</text>
</g>
</g>
<g id="text_66">
<text style="font-size: 30.5px; font-family: 'DejaVu Sans', sans-serif; text-anchor: middle" x="754.812609" y="155.95" transform="rotate(-90 754.812609 155.95)">Abs. Error (meV)</text>
</g>
</g>
<g id="LineCollection_49"/>
<g id="patch_13">
<path d="M 646 309.6
L 653.45 309.6
L 660.9 309.6
L 660.9 2.3
L 653.45 2.3
L 646 2.3
L 646 309.6
z
" style="fill: none; stroke: #000000; stroke-width: 1.9; stroke-linejoin: miter; stroke-linecap: square"/>
</g>
</g>
<g id="axes_4">
<g id="patch_14">
<path d="M 173.6 1788.3
L 937.6 1788.3
L 937.6 994.3
L 173.6 994.3
z
" style="fill: #ffffff"/>
</g>
<g id="patch_15">
<path d="M 208.382911 207782.950365
L 289.985047 207782.950365
L 289.985047 1102.986451
L 208.382911 1102.986451
z
" clip-path="url(#p5740acfc88)" style="fill: #4ea64e"/>
</g>
<g id="patch_16">
<path d="M 310.385581 207782.950365
L 391.987717 207782.950365
L 391.987717 1321.548535
L 310.385581 1321.548535
z
" clip-path="url(#p5740acfc88)" style="fill: #4ea64e"/>
</g>
<g id="patch_17">
<path d="M 412.388251 207782.950365
L 493.990387 207782.950365
L 493.990387 1458.233084
L 412.388251 1458.233084
z
" clip-path="url(#p5740acfc88)" style="fill: #4ea64e"/>
</g>
<g id="patch_18">
<path d="M 514.390921 207782.950365
L 595.993057 207782.950365
L 595.993057 1612.379693
L 514.390921 1612.379693
z
" clip-path="url(#p5740acfc88)" style="fill: #4ea64e"/>
</g>
<g id="patch_19">
<path d="M 616.393591 207782.950365
L 697.995728 207782.950365
L 697.995728 1658.086429
L 616.393591 1658.086429
z
" clip-path="url(#p5740acfc88)" style="fill: #4ea64e"/>
</g>
<g id="patch_20">
<path d="M 718.396262 207782.950365
L 799.998398 207782.950365
L 799.998398 207782.950365
L 718.396262 207782.950365
z
" clip-path="url(#p5740acfc88)" style="fill: #4ea64e"/>
</g>
<g id="patch_21">
<path d="M 820.398932 207782.950365
L 902.001068 207782.950365
L 902.001068 1756.386081
L 820.398932 1756.386081
z
" clip-path="url(#p5740acfc88)" style="fill: #4ea64e"/>
</g>
<g id="matplotlib.axis_7">
<g id="xtick_51">
<g id="line2d_258">
<g>
<path d="M 0 0 L 0 8.3" transform="translate(249.183979 1788.3)" style="stroke: #000000; stroke-width: 1.9"/>
</g>
</g>
<g id="text_67">
<text style="font-size: 42.6px; font-family: 'DejaVu Sans', sans-serif; text-anchor: middle" x="249.183979" y="1836.969344" transform="rotate(-0 249.183979 1836.969344)">1</text>
</g>
</g>
<g id="xtick_52">
<g id="line2d_259">
<g>
<path d="M 0 0 L 0 8.3" transform="translate(351.186649 1788.3)" style="stroke: #000000; stroke-width: 1.9"/>
</g>
</g>
<g id="text_68">
<text style="font-size: 42.6px; font-family: 'DejaVu Sans', sans-serif; text-anchor: middle" x="351.186649" y="1836.969344" transform="rotate(-0 351.186649 1836.969344)">2</text>
</g>
</g>
<g id="xtick_53">
<g id="line2d_260">
<g>
<path d="M 0 0 L 0 8.3" transform="translate(453.189319 1788.3)" style="stroke: #000000; stroke-width: 1.9"/>
</g>
</g>
<g id="text_69">
<text style="font-size: 42.6px; font-family: 'DejaVu Sans', sans-serif; text-anchor: middle" x="453.189319" y="1836.969344" transform="rotate(-0 453.189319 1836.969344)">3</text>
</g>
</g>
<g id="xtick_54">
<g id="line2d_261">
<g>
<path d="M 0 0 L 0 8.3" transform="translate(555.191989 1788.3)" style="stroke: #000000; stroke-width: 1.9"/>
</g>
</g>
<g id="text_70">
<text style="font-size: 42.6px; font-family: 'DejaVu Sans', sans-serif; text-anchor: middle" x="555.191989" y="1836.969344" transform="rotate(-0 555.191989 1836.969344)">4</text>
</g>
</g>
<g id="xtick_55">
<g id="line2d_262">
<g>
<path d="M 0 0 L 0 8.3" transform="translate(657.19466 1788.3)" style="stroke: #000000; stroke-width: 1.9"/>
</g>
</g>
<g id="text_71">
<text style="font-size: 42.6px; font-family: 'DejaVu Sans', sans-serif; text-anchor: middle" x="657.19466" y="1836.969344" transform="rotate(-0 657.19466 1836.969344)">5</text>
</g>
</g>
<g id="xtick_56">
<g id="line2d_263">
<g>
<path d="M 0 0 L 0 8.3" transform="translate(759.19733 1788.3)" style="stroke: #000000; stroke-width: 1.9"/>
</g>
</g>
<g id="text_72">
<text style="font-size: 42.6px; font-family: 'DejaVu Sans', sans-serif; text-anchor: middle" x="759.19733" y="1836.969344" transform="rotate(-0 759.19733 1836.969344)">6</text>
</g>
</g>
<g id="xtick_57">
<g id="line2d_264">
<g>
<path d="M 0 0 L 0 8.3" transform="translate(861.2 1788.3)" style="stroke: #000000; stroke-width: 1.9"/>
</g>
</g>
<g id="text_73">
<text style="font-size: 42.6px; font-family: 'DejaVu Sans', sans-serif; text-anchor: middle" x="861.2" y="1836.969344" transform="rotate(-0 861.2 1836.969344)">7</text>
</g>
</g>
<g id="text_74">
<text style="font-size: 47px; font-family: 'DejaVu Sans', sans-serif" transform="translate(323.47875 1890.341469)">No. of compositions</text>
<text style="font-size: 47px; font-family: 'DejaVu Sans', sans-serif" transform="translate(261.43875 1942.971188)">within uncertainty of hull</text>
</g>
</g>
<g id="matplotlib.axis_8">
<g id="ytick_12">
<g id="line2d_265">
<g>
<path d="M 0 0 L -8.3 0" transform="translate(173.6 1756.386081)" style="stroke: #000000; stroke-width: 1.9"/>
</g>
</g>
<g id="text_75">
<g transform="translate(82.324 1772.570753)">
<text>
<tspan x="0" y="-0.19375" style="font-size: 42.6px; font-family: 'DejaVu Sans', sans-serif">1</tspan>
<tspan x="27.119324" y="-0.19375" style="font-size: 42.6px; font-family: 'DejaVu Sans', sans-serif">0</tspan>
<tspan x="54.650171" y="-16.654688" style="font-size: 29.82px; font-family: 'DejaVu Sans', sans-serif">0</tspan>
</text>
</g>
</g>
</g>
<g id="ytick_13">
<g id="line2d_266">
<g>
<path d="M 0 0 L -8.3 0" transform="translate(173.6 1550.359517)" style="stroke: #000000; stroke-width: 1.9"/>
</g>
</g>
<g id="text_76">
<g transform="translate(82.324 1566.544189)">
<text>
<tspan x="0" y="-0.598438" style="font-size: 42.6px; font-family: 'DejaVu Sans', sans-serif">1</tspan>
<tspan x="27.119324" y="-0.598438" style="font-size: 42.6px; font-family: 'DejaVu Sans', sans-serif">0</tspan>
<tspan x="54.650171" y="-17.059375" style="font-size: 29.82px; font-family: 'DejaVu Sans', sans-serif">1</tspan>
</text>
</g>
</g>
</g>
<g id="ytick_14">
<g id="line2d_267">
<g>
<path d="M 0 0 L -8.3 0" transform="translate(173.6 1344.332953)" style="stroke: #000000; stroke-width: 1.9"/>
</g>
</g>
<g id="text_77">
<g transform="translate(82.324 1360.517625)">
<text>
<tspan x="0" y="-0.19375" style="font-size: 42.6px; font-family: 'DejaVu Sans', sans-serif">1</tspan>
<tspan x="27.119324" y="-0.19375" style="font-size: 42.6px; font-family: 'DejaVu Sans', sans-serif">0</tspan>
<tspan x="54.650171" y="-16.654688" style="font-size: 29.82px; font-family: 'DejaVu Sans', sans-serif">2</tspan>
</text>
</g>
</g>
</g>
<g id="ytick_15">
<g id="line2d_268">
<g>
<path d="M 0 0 L -8.3 0" transform="translate(173.6 1138.306389)" style="stroke: #000000; stroke-width: 1.9"/>
</g>
</g>
<g id="text_78">
<g transform="translate(82.324 1154.49106)">
<text>
<tspan x="0" y="-0.19375" style="font-size: 42.6px; font-family: 'DejaVu Sans', sans-serif">1</tspan>
<tspan x="27.119324" y="-0.19375" style="font-size: 42.6px; font-family: 'DejaVu Sans', sans-serif">0</tspan>
<tspan x="54.650171" y="-16.654688" style="font-size: 29.82px; font-family: 'DejaVu Sans', sans-serif">3</tspan>
</text>
</g>
</g>
</g>
<g id="ytick_16">
<g id="line2d_269">

<g>
<path d="M 0 0 L -4.6 0" transform="translate(173.6 1788.3)" style="stroke: #000000; stroke-width: 1.6"/>
</g>
</g>
</g>
<g id="ytick_17">
<g id="line2d_270">
<g>
<path d="M 0 0 L -4.6 0" transform="translate(173.6 1776.352118)" style="stroke: #000000; stroke-width: 1.6"/>
</g>
</g>
</g>
<g id="ytick_18">
<g id="line2d_271">
<g>
<path d="M 0 0 L -4.6 0" transform="translate(173.6 1765.81334)" style="stroke: #000000; stroke-width: 1.6"/>
</g>
</g>
</g>
<g id="ytick_19">
<g id="line2d_272">
<g>
<path d="M 0 0 L -4.6 0" transform="translate(173.6 1694.365906)" style="stroke: #000000; stroke-width: 1.6"/>
</g>
</g>
</g>
<g id="ytick_20">
<g id="line2d_273">
<g>
<path d="M 0 0 L -4.6 0" transform="translate(173.6 1658.086429)" style="stroke: #000000; stroke-width: 1.6"/>
</g>
</g>
</g>
<g id="ytick_21">
<g id="line2d_274">
<g>
<path d="M 0 0 L -4.6 0" transform="translate(173.6 1632.34573)" style="stroke: #000000; stroke-width: 1.6"/>
</g>
</g>
</g>
<g id="ytick_22">
<g id="line2d_275">
<g>
<path d="M 0 0 L -4.6 0" transform="translate(173.6 1612.379693)" style="stroke: #000000; stroke-width: 1.6"/>
</g>
</g>
</g>
<g id="ytick_23">
<g id="line2d_276">
<g>
<path d="M 0 0 L -4.6 0" transform="translate(173.6 1596.066253)" style="stroke: #000000; stroke-width: 1.6"/>
</g>
</g>
</g>
<g id="ytick_24">
<g id="line2d_277">
<g>
<path d="M 0 0 L -4.6 0" transform="translate(173.6 1582.273436)" style="stroke: #000000; stroke-width: 1.6"/>
</g>
</g>
</g>
<g id="ytick_25">
<g id="line2d_278">
<g>
<path d="M 0 0 L -4.6 0" transform="translate(173.6 1570.325554)" style="stroke: #000000; stroke-width: 1.6"/>
</g>
</g>
</g>
<g id="ytick_26">
<g id="line2d_279">
<g>
<path d="M 0 0 L -4.6 0" transform="translate(173.6 1559.786776)" style="stroke: #000000; stroke-width: 1.6"/>
</g>
</g>
</g>
<g id="ytick_27">
<g id="line2d_280">
<g>
<path d="M 0 0 L -4.6 0" transform="translate(173.6 1488.339341)" style="stroke: #000000; stroke-width: 1.6"/>
</g>
</g>
</g>
<g id="ytick_28">
<g id="line2d_281">
<g>
<path d="M 0 0 L -4.6 0" transform="translate(173.6 1452.059864)" style="stroke: #000000; stroke-width: 1.6"/>
</g>
</g>
</g>
<g id="ytick_29">
<g id="line2d_282">
<g>
<path d="M 0 0 L -4.6 0" transform="translate(173.6 1426.319166)" style="stroke: #000000; stroke-width: 1.6"/>
</g>
</g>
</g>
<g id="ytick_30">
<g id="line2d_283">
<g>
<path d="M 0 0 L -4.6 0" transform="translate(173.6 1406.353129)" style="stroke: #000000; stroke-width: 1.6"/>
</g>
</g>
</g>
<g id="ytick_31">
<g id="line2d_284">
<g>
<path d="M 0 0 L -4.6 0" transform="translate(173.6 1390.039688)" style="stroke: #000000; stroke-width: 1.6"/>
</g>
</g>
</g>
<g id="ytick_32">
<g id="line2d_285">
<g>
<path d="M 0 0 L -4.6 0" transform="translate(173.6 1376.246871)" style="stroke: #000000; stroke-width: 1.6"/>
</g>
</g>
</g>
<g id="ytick_33">
<g id="line2d_286">
<g>
<path d="M 0 0 L -4.6 0" transform="translate(173.6 1364.29899)" style="stroke: #000000; stroke-width: 1.6"/>
</g>
</g>
</g>
<g id="ytick_34">
<g id="line2d_287">
<g>
<path d="M 0 0 L -4.6 0" transform="translate(173.6 1353.760211)" style="stroke: #000000; stroke-width: 1.6"/>
</g>
</g>
</g>
<g id="ytick_35">
<g id="line2d_288">
<g>
<path d="M 0 0 L -4.6 0" transform="translate(173.6 1282.312777)" style="stroke: #000000; stroke-width: 1.6"/>
</g>
</g>
</g>
<g id="ytick_36">
<g id="line2d_289">
<g>
<path d="M 0 0 L -4.6 0" transform="translate(173.6 1246.0333)" style="stroke: #000000; stroke-width: 1.6"/>
</g>
</g>
</g>
<g id="ytick_37">
<g id="line2d_290">
<g>
<path d="M 0 0 L -4.6 0" transform="translate(173.6 1220.292601)" style="stroke: #000000; stroke-width: 1.6"/>
</g>
</g>
</g>
<g id="ytick_38">
<g id="line2d_291">
<g>
<path d="M 0 0 L -4.6 0" transform="translate(173.6 1200.326564)" style="stroke: #000000; stroke-width: 1.6"/>
</g>
</g>
</g>
<g id="ytick_39">
<g id="line2d_292">
<g>
<path d="M 0 0 L -4.6 0" transform="translate(173.6 1184.013124)" style="stroke: #000000; stroke-width: 1.6"/>
</g>
</g>
</g>
<g id="ytick_40">
<g id="line2d_293">
<g>
<path d="M 0 0 L -4.6 0" transform="translate(173.6 1170.220307)" style="stroke: #000000; stroke-width: 1.6"/>
</g>
</g>
</g>
<g id="ytick_41">
<g id="line2d_294">
<g>
<path d="M 0 0 L -4.6 0" transform="translate(173.6 1158.272426)" style="stroke: #000000; stroke-width: 1.6"/>
</g>
</g>
</g>
<g id="ytick_42">
<g id="line2d_295">
<g>
<path d="M 0 0 L -4.6 0" transform="translate(173.6 1147.733647)" style="stroke: #000000; stroke-width: 1.6"/>
</g>
</g>
</g>
<g id="ytick_43">
<g id="line2d_296">
<g>
<path d="M 0 0 L -4.6 0" transform="translate(173.6 1076.286213)" style="stroke: #000000; stroke-width: 1.6"/>
</g>
</g>
</g>
<g id="ytick_44">
<g id="line2d_297">
<g>
<path d="M 0 0 L -4.6 0" transform="translate(173.6 1040.006736)" style="stroke: #000000; stroke-width: 1.6"/>
</g>
</g>
</g>
<g id="ytick_45">
<g id="line2d_298">
<g>
<path d="M 0 0 L -4.6 0" transform="translate(173.6 1014.266037)" style="stroke: #000000; stroke-width: 1.6"/>
</g>
</g>
</g>
<g id="ytick_46">
<g id="line2d_299">
<g>
<path d="M 0 0 L -4.6 0" transform="translate(173.6 994.3)" style="stroke: #000000; stroke-width: 1.6"/>
</g>
</g>
</g>
<g id="text_79">
<text style="font-size: 47px; font-family: 'DejaVu Sans', sans-serif; text-anchor: middle" x="63.349469" y="1391.3" transform="rotate(-90 63.349469 1391.3)">Chemical Systems</text>
</g>
</g>
<g id="patch_22">
<path d="M 173.6 1788.3
L 173.6 994.3
" style="fill: none; stroke: #000000; stroke-width: 1.9; stroke-linejoin: miter; stroke-linecap: square"/>
</g>
<g id="patch_23">
<path d="M 937.6 1788.3
L 937.6 994.3
" style="fill: none; stroke: #000000; stroke-width: 1.9; stroke-linejoin: miter; stroke-linecap: square"/>
</g>
<g id="patch_24">
<path d="M 173.6 1788.3
L 937.6 1788.3
" style="fill: none; stroke: #000000; stroke-width: 1.9; stroke-linejoin: miter; stroke-linecap: square"/>
</g>
<g id="patch_25">
<path d="M 173.6 994.3
L 937.6 994.3
" style="fill: none; stroke: #000000; stroke-width: 1.9; stroke-linejoin: miter; stroke-linecap: square"/>
</g>
<g id="text_80">
<text style="font-size: 37.55px; font-family: 'DejaVu Sans', sans-serif" transform="translate(403 1120.356642)">The O-P-W chemical</text>
<text style="font-size: 37.55px; font-family: 'DejaVu Sans', sans-serif" transform="translate(403 1162.404428)">system has 7 compositions</text>
<text style="font-size: 37.55px; font-family: 'DejaVu Sans', sans-serif" transform="translate(403 1204.452214)">within uncertainty of the</text>
<text style="font-size: 37.55px; font-family: 'DejaVu Sans', sans-serif" transform="translate(403 1246.5)">convex hull</text>
</g>
</g>
<g id="axes_5">
<g id="patch_26">
<path d="M 1243.3 1788
L 2007 1788
L 2007 994.5
L 1243.3 994.5
z
" style="fill: #ffffff"/>
</g>
<g id="patch_27">
<path d="M 1278.013636 1788
L 1305.784545 1788
L 1305.784545 1083.2
L 1278.013636 1083.2
z
" clip-path="url(#p88a9bf8e7f)" style="fill: #4ea64e"/>
</g>
<g id="patch_28">
<path d="M 1305.784545 1788
L 1333.555455 1788
L 1333.555455 1231.7
L 1305.784545 1231.7
z
" clip-path="url(#p88a9bf8e7f)" style="fill: #4ea64e"/>
</g>
<g id="patch_29">
<path d="M 1333.555455 1788
L 1361.326364 1788
L 1361.326364 1344.6
L 1333.555455 1344.6
z
" clip-path="url(#p88a9bf8e7f)" style="fill: #4ea64e"/>
</g>
<g id="patch_30">
<path d="M 1361.326364 1788
L 1389.097273 1788
L 1389.097273 1405.3
L 1361.326364 1405.3
z
" clip-path="url(#p88a9bf8e7f)" style="fill: #4ea64e"/>
</g>
<g id="patch_31">
<path d="M 1389.097273 1788
L 1416.868182 1788
L 1416.868182 1451.3
L 1389.097273 1451.3
z
" clip-path="url(#p88a9bf8e7f)" style="fill: #4ea64e"/>
</g>
<g id="patch_32">
<path d="M 1416.868182 1788
L 1444.639091 1788
L 1444.639091 1491
L 1416.868182 1491
z
" clip-path="url(#p88a9bf8e7f)" style="fill: #4ea64e"/>
</g>
<g id="patch_33">
<path d="M 1444.639091 1788
L 1472.41 1788
L 1472.41 1516.3
L 1444.639091 1516.3
z
" clip-path="url(#p88a9bf8e7f)" style="fill: #4ea64e"/>
</g>
<g id="patch_34">
<path d="M 1472.41 1788
L 1500.180909 1788
L 1500.180909 1540.3
L 1472.41 1540.3
z
" clip-path="url(#p88a9bf8e7f)" style="fill: #4ea64e"/>
</g>
<g id="patch_35">
<path d="M 1500.180909 1788
L 1527.951818 1788
L 1527.951818 1557.2
L 1500.180909 1557.2
z
" clip-path="url(#p88a9bf8e7f)" style="fill: #4ea64e"/>
</g>
<g id="patch_36">
<path d="M 1527.951818 1788
L 1555.722727 1788
L 1555.722727 1572
L 1527.951818 1572
z
" clip-path="url(#p88a9bf8e7f)" style="fill: #4ea64e"/>
</g>
<g id="patch_37">
<path d="M 1555.722727 1788
L 1583.493636 1788
L 1583.493636 1583.3
L 1555.722727 1583.3
z
" clip-path="url(#p88a9bf8e7f)" style="fill: #4ea64e"/>
</g>
<g id="patch_38">
<path d="M 1583.493636 1788
L 1611.264545 1788
L 1611.264545 1594.2
L 1583.493636 1594.2
z
" clip-path="url(#p88a9bf8e7f)" style="fill: #4ea64e"/>
</g>
<g id="patch_39">
<path d="M 1611.264545 1788
L 1639.035455 1788
L 1639.035455 1603.1
L 1611.264545 1603.1
z
" clip-path="url(#p88a9bf8e7f)" style="fill: #4ea64e"/>
</g>
<g id="patch_40">
<path d="M 1639.035455 1788
L 1666.806364 1788
L 1666.806364 1611.7
L 1639.035455 1611.7
z
" clip-path="url(#p88a9bf8e7f)" style="fill: #4ea64e"/>
</g>
<g id="patch_41">
<path d="M 1666.806364 1788
L 1694.577273 1788
L 1694.577273 1619.2
L 1666.806364 1619.2
z
" clip-path="url(#p88a9bf8e7f)" style="fill: #4ea64e"/>
</g>
<g id="patch_42">
<path d="M 1694.577273 1788
L 1722.348182 1788
L 1722.348182 1626.3
L 1694.577273 1626.3
z
" clip-path="url(#p88a9bf8e7f)" style="fill: #4ea64e"/>
</g>
<g id="patch_43">
<path d="M 1722.348182 1788
L 1750.119091 1788
L 1750.119091 1632.2
L 1722.348182 1632.2
z
" clip-path="url(#p88a9bf8e7f)" style="fill: #4ea64e"/>
</g>
<g id="patch_44">
<path d="M 1750.119091 1788
L 1777.89 1788
L 1777.89 1637.5
L 1750.119091 1637.5
z
" clip-path="url(#p88a9bf8e7f)" style="fill: #4ea64e"/>
</g>
<g id="patch_45">
<path d="M 1777.89 1788
L 1805.660909 1788
L 1805.660909 1642.6
L 1777.89 1642.6
z
" clip-path="url(#p88a9bf8e7f)" style="fill: #4ea64e"/>
</g>
<g id="patch_46">
<path d="M 1805.660909 1788
L 1833.431818 1788
L 1833.431818 1647.9
L 1805.660909 1647.9
z
" clip-path="url(#p88a9bf8e7f)" style="fill: #4ea64e"/>
</g>
<g id="patch_47">
<path d="M 1833.431818 1788
L 1861.202727 1788
L 1861.202727 1652.4
L 1833.431818 1652.4
z
" clip-path="url(#p88a9bf8e7f)" style="fill: #4ea64e"/>
</g>
<g id="patch_48">
<path d="M 1861.202727 1788
L 1888.973636 1788
L 1888.973636 1656.5
L 1861.202727 1656.5
z
" clip-path="url(#p88a9bf8e7f)" style="fill: #4ea64e"/>
</g>
<g id="patch_49">
<path d="M 1888.973636 1788
L 1916.744545 1788
L 1916.744545 1660.7
L 1888.973636 1660.7
z
" clip-path="url(#p88a9bf8e7f)" style="fill: #4ea64e"/>
</g>
<g id="patch_50">
<path d="M 1916.744545 1788
L 1944.515455 1788
L 1944.515455 1663
L 1916.744545 1663
z
" clip-path="url(#p88a9bf8e7f)" style="fill: #4ea64e"/>
</g>
<g id="patch_51">
<path d="M 1944.515455 1788
L 1972.286364 1788
L 1972.286364 1663
L 1944.515455 1663
z
" clip-path="url(#p88a9bf8e7f)" style="fill: #4ea64e"/>
</g>
<g id="matplotlib.axis_9">
<g id="xtick_58">
<g id="line2d_300">
<g>
<path d="M 0 0 L 0 8.3" transform="translate(1278.013636 1788)" style="stroke: #000000; stroke-width: 1.9"/>
</g>
</g>
<g id="text_81">
<text style="font-size: 42.6px; font-family: 'DejaVu Sans', sans-serif; text-anchor: middle" x="1278.013636" y="1836.669344" transform="rotate(-0 1278.013636 1836.669344)">0</text>
</g>
</g>
<g id="xtick_59">
<g id="line2d_301">
<g>
<path d="M 0 0 L 0 8.3" transform="translate(1416.868182 1788)" style="stroke: #000000; stroke-width: 1.9"/>
</g>
</g>
<g id="text_82">
<text style="font-size: 42.6px; font-family: 'DejaVu Sans', sans-serif; text-anchor: middle" x="1416.868182" y="1836.669344" transform="rotate(-0 1416.868182 1836.669344)">5</text>
</g>
</g>
<g id="xtick_60">
<g id="line2d_302">
<g>
<path d="M 0 0 L 0 8.3" transform="translate(1555.722727 1788)" style="stroke: #000000; stroke-width: 1.9"/>
</g>
</g>
<g id="text_83">
<text style="font-size: 42.6px; font-family: 'DejaVu Sans', sans-serif; text-anchor: middle" x="1555.722727" y="1836.669344" transform="rotate(-0 1555.722727 1836.669344)">10</text>
</g>
</g>
<g id="xtick_61">
<g id="line2d_303">
<g>
<path d="M 0 0 L 0 8.3" transform="translate(1694.577273 1788)" style="stroke: #000000; stroke-width: 1.9"/>
</g>
</g>
<g id="text_84">
<text style="font-size: 42.6px; font-family: 'DejaVu Sans', sans-serif; text-anchor: middle" x="1694.577273" y="1836.669344" transform="rotate(-0 1694.577273 1836.669344)">15</text>
</g>
</g>
<g id="xtick_62">
<g id="line2d_304">
<g>
<path d="M 0 0 L 0 8.3" transform="translate(1833.431818 1788)" style="stroke: #000000; stroke-width: 1.9"/>
</g>
</g>
<g id="text_85">
<text style="font-size: 42.6px; font-family: 'DejaVu Sans', sans-serif; text-anchor: middle" x="1833.431818" y="1836.669344" transform="rotate(-0 1833.431818 1836.669344)">20</text>
</g>
</g>
<g id="xtick_63">
<g id="line2d_305">
<g>
<path d="M 0 0 L 0 8.3" transform="translate(1972.286364 1788)" style="stroke: #000000; stroke-width: 1.9"/>
</g>
</g>
<g id="text_86">
<text style="font-size: 42.6px; font-family: 'DejaVu Sans', sans-serif; text-anchor: middle" x="1972.286364" y="1836.669344" transform="rotate(-0 1972.286364 1836.669344)">25</text>
</g>
</g>
<g id="text_87">
<text style="font-size: 47px; font-family: 'DejaVu Sans', sans-serif; text-anchor: middle" x="1625.15" y="1890.041469" transform="rotate(-0 1625.15 1890.041469)">Energy above hull (meV/atom)</text>
</g>
</g>
<g id="matplotlib.axis_10">
<g id="ytick_47">
<g id="line2d_306">
<g>
<path d="M 0 0 L -8.3 0" transform="translate(1243.3 1788)" style="stroke: #000000; stroke-width: 1.9"/>
</g>
</g>
<g id="text_88">
<text style="font-size: 42.6px; font-family: 'DejaVu Sans', sans-serif; text-anchor: end" x="1227" y="1804.184672" transform="rotate(-0 1227 1804.184672)">0%</text>
</g>
</g>
<g id="ytick_48">
<g id="line2d_307">
<g>
<path d="M 0 0 L -8.3 0" transform="translate(1243.3 1629.3)" style="stroke: #000000; stroke-width: 1.9"/>
</g>
</g>
<g id="text_89">
<text style="font-size: 42.6px; font-family: 'DejaVu Sans', sans-serif; text-anchor: end" x="1227" y="1645.484672" transform="rotate(-0 1227 1645.484672)">20%</text>
</g>
</g>
<g id="ytick_49">
<g id="line2d_308">
<g>
<path d="M 0 0 L -8.3 0" transform="translate(1243.3 1470.6)" style="stroke: #000000; stroke-width: 1.9"/>
</g>
</g>
<g id="text_90">
<text style="font-size: 42.6px; font-family: 'DejaVu Sans', sans-serif; text-anchor: end" x="1227" y="1486.784672" transform="rotate(-0 1227 1486.784672)">40%</text>
</g>
</g>
<g id="ytick_50">
<g id="line2d_309">
<g>
<path d="M 0 0 L -8.3 0" transform="translate(1243.3 1311.9)" style="stroke: #000000; stroke-width: 1.9"/>
</g>
</g>
<g id="text_91">
<text style="font-size: 42.6px; font-family: 'DejaVu Sans', sans-serif; text-anchor: end" x="1227" y="1328.084672" transform="rotate(-0 1227 1328.084672)">60%</text>
</g>
</g>
<g id="ytick_51">
<g id="line2d_310">
<g>
<path d="M 0 0 L -8.3 0" transform="translate(1243.3 1153.2)" style="stroke: #000000; stroke-width: 1.9"/>
</g>
</g>
<g id="text_92">
<text style="font-size: 42.6px; font-family: 'DejaVu Sans', sans-serif; text-anchor: end" x="1227" y="1169.384672" transform="rotate(-0 1227 1169.384672)">80%</text>
</g>
</g>
<g id="ytick_52">
<g id="line2d_311">
<g>
<path d="M 0 0 L -8.3 0" transform="translate(1243.3 994.5)" style="stroke: #000000; stroke-width: 1.9"/>
</g>
</g>
<g id="text_93">
<text style="font-size: 42.6px; font-family: 'DejaVu Sans', sans-serif; text-anchor: end" x="1227" y="1010.684672" transform="rotate(-0 1227 1010.684672)">100%</text>
</g>
</g>
<g id="text_94">
<text style="font-size: 47px; font-family: 'DejaVu Sans', sans-serif" transform="translate(1033.806344 1671.84) rotate(-90)">% of unstable corrected</text>
<text style="font-size: 47px; font-family: 'DejaVu Sans', sans-serif" transform="translate(1086.436062 1767.962344) rotate(-90)">compositions within uncertainty</text>
</g>
</g>
<g id="patch_52">
<path d="M 1243.3 1788
L 1243.3 994.5
" style="fill: none; stroke: #000000; stroke-width: 1.9; stroke-linejoin: miter; stroke-linecap: square"/>
</g>
<g id="patch_53">
<path d="M 2007 1788
L 2007 994.5
" style="fill: none; stroke: #000000; stroke-width: 1.9; stroke-linejoin: miter; stroke-linecap: square"/>
</g>
<g id="patch_54">
<path d="M 1243.3 1788
L 2007 1788
" style="fill: none; stroke: #000000; stroke-width: 1.9; stroke-linejoin: miter; stroke-linecap: square"/>
</g>
<g id="patch_55">
<path d="M 1243.3 994.5
L 2007 994.5
" style="fill: none; stroke: #000000; stroke-width: 1.9; stroke-linejoin: miter; stroke-linecap: square"/>
</g>
</g>
<g id="patch_56">
<path d="M 688.6 1261.8
Q 774.05 1505.95 858.798267 1748.094989
" style="fill: none; stroke: #000000; stroke-width: 1.9; stroke-linecap: round"/>
<path d="M 860.924931 1731.437324
L 858.798267 1748.094989
L 846.748134 1736.399058
" style="fill: none; stroke: #000000; stroke-width: 1.9; stroke-linecap: round"/>
</g>
<g id="text_95">
<text style="font-weight: 700; font-size: 47.3px; font-family: 'DejaVu Sans', sans-serif; text-anchor: start" x="197.1" y="50.3" transform="rotate(-0 197.1 50.3)">a)</text>
</g>
<g id="text_96">
<text style="font-weight: 700; font-size: 47.3px; font-family: 'DejaVu Sans', sans-serif; text-anchor: start" x="197.1" y="1043.9" transform="rotate(-0 197.1 1043.9)">b)</text>
</g>
<g id="text_97">
<text style="font-weight: 700; font-size: 47.3px; font-family: 'DejaVu Sans', sans-serif; text-anchor: start" x="1262" y="1043.7" transform="rotate(-0 1262 1043.7)">c)</text>
</g>
</g>
<defs>
<clipPath id="p88816e5993">
<rect x="173.6" y="2" width="1833.4" height="794"/>
</clipPath>
<clipPath id="pb02ac8a6c4">
<rect x="303.9" y="2" width="321.9" height="307.9"/>
</clipPath>
<clipPath id="p67fc833e37">
<rect x="646" y="2.3" width="14.9" height="307.3"/>
</clipPath>
<clipPath id="p5740acfc88">
<rect x="173.6" y="994.3" width="764" height="794"/>
</clipPath>
<clipPath id="p88a9bf8e7f">
<rect x="1243.3" y="994.5" width="763.7" height="793.5"/>
</clipPath>
</defs>
</svg>

</body></html>
